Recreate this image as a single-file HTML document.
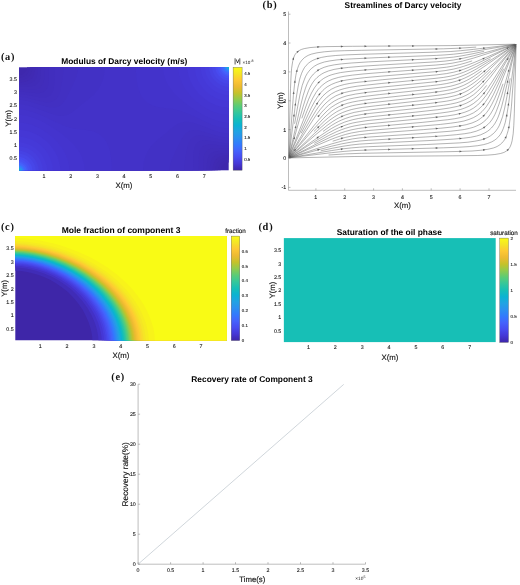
<!DOCTYPE html>
<html><head><meta charset="utf-8"><title>Figure</title>
<style>html,body{margin:0;padding:0;background:#fff}svg{display:block}text{white-space:pre}</style>
</head><body>
<svg width="520" height="585" viewBox="0 0 520 585" text-rendering="geometricPrecision">
<rect width="520" height="585" fill="#fff"/>
<g style="filter:blur(0.32px)">
<defs><linearGradient id="pg" x1="0" y1="1" x2="0" y2="0"><stop offset="0.0000" stop-color="#3e26a8"/><stop offset="0.0312" stop-color="#412ebf"/><stop offset="0.0625" stop-color="#4537d5"/><stop offset="0.0938" stop-color="#4641e2"/><stop offset="0.1250" stop-color="#484cf0"/><stop offset="0.1562" stop-color="#4657f6"/><stop offset="0.1875" stop-color="#4562fc"/><stop offset="0.2188" stop-color="#3c6efd"/><stop offset="0.2500" stop-color="#337afd"/><stop offset="0.2812" stop-color="#2f85f6"/><stop offset="0.3125" stop-color="#2c90f0"/><stop offset="0.3438" stop-color="#269ae9"/><stop offset="0.3750" stop-color="#21a3e3"/><stop offset="0.4062" stop-color="#16abdb"/><stop offset="0.4375" stop-color="#0bb3d2"/><stop offset="0.4688" stop-color="#11b9c4"/><stop offset="0.5000" stop-color="#17bfb6"/><stop offset="0.5312" stop-color="#26c3a9"/><stop offset="0.5625" stop-color="#35c79b"/><stop offset="0.5938" stop-color="#48ca89"/><stop offset="0.6250" stop-color="#5acc77"/><stop offset="0.6562" stop-color="#75cb62"/><stop offset="0.6875" stop-color="#8fcb4e"/><stop offset="0.7188" stop-color="#aac63c"/><stop offset="0.7500" stop-color="#c5c22a"/><stop offset="0.7812" stop-color="#d9be2e"/><stop offset="0.8125" stop-color="#ecba32"/><stop offset="0.8438" stop-color="#f5c133"/><stop offset="0.8750" stop-color="#fec834"/><stop offset="0.9062" stop-color="#f9d62d"/><stop offset="0.9375" stop-color="#f5e526"/><stop offset="0.9688" stop-color="#f7f01d"/><stop offset="1.0000" stop-color="#f9fb15"/></linearGradient></defs>
<text x="0.90" y="60.40" font-family="Liberation Serif, Times New Roman, serif" font-size="10.4" text-anchor="start" fill="#111" letter-spacing="0.75" font-weight="bold">(a)</text>
<text x="124.30" y="63.60" font-family="Liberation Sans, Arial, Helvetica, sans-serif" font-size="8.4" font-weight="bold" text-anchor="middle" fill="#000">Modulus of Darcy velocity (m/s)</text>
<rect x="19.0" y="67.3" width="209.70" height="103.00" fill="#3e28ad"/>
<path d="M19.0,167.7L19.0,75.2L21.7,74.6L24.7,72.6L26.4,69.9L27.1,67.3L228.7,67.3L228.7,162.4L226.0,163.0L223.0,165.0L221.3,167.7L220.6,170.3L19.0,170.3Z" fill="#3f29af" fill-rule="evenodd"/>
<path d="M19.0,167.7L19.0,77.8L21.7,77.4L24.3,76.4L26.2,75.2L27.0,74.5L28.3,72.6L29.4,69.9L29.9,67.3L228.7,67.3L228.7,159.8L226.0,160.2L223.4,161.2L221.5,162.4L220.7,163.1L219.4,165.0L218.3,167.7L217.8,170.3L19.0,170.3Z" fill="#3f2ab1" fill-rule="evenodd"/>
<path d="M19.0,167.7L19.0,80.2L21.7,79.9L24.3,79.3L27.5,77.9L29.6,76.0L30.2,75.2L31.5,72.6L32.2,69.9L32.5,67.3L228.7,67.3L228.7,157.4L226.0,157.7L223.4,158.3L220.2,159.7L218.1,161.6L217.5,162.4L216.2,165.0L215.5,167.7L215.2,170.3L19.0,170.3Z" fill="#402ab3" fill-rule="evenodd"/>
<path d="M19.0,167.7L19.0,82.5L24.3,82.0L27.0,81.3L29.6,80.1L32.2,77.9L33.7,75.2L34.6,72.6L35.0,69.9L35.2,67.3L228.7,67.3L228.7,155.1L223.4,155.6L220.7,156.3L218.1,157.5L215.5,159.7L214.0,162.4L213.1,165.0L212.7,167.7L212.5,170.3L19.0,170.3Z" fill="#402bb6" fill-rule="evenodd"/>
<path d="M19.0,167.7L19.0,84.7L24.3,84.5L27.0,84.2L29.6,83.6L32.3,82.5L34.7,80.5L36.3,77.9L37.1,75.2L37.6,72.6L38.0,67.3L228.7,67.3L228.7,152.9L223.4,153.1L220.7,153.4L218.1,154.0L215.4,155.1L213.0,157.1L211.4,159.7L210.6,162.4L210.1,165.0L209.7,170.3L19.0,170.3Z" fill="#402cb8" fill-rule="evenodd"/>
<path d="M19.0,167.7L19.0,87.0L27.0,86.9L32.3,86.3L34.9,85.4L37.6,83.5L39.4,80.5L40.2,77.9L40.9,72.6L41.1,67.3L228.7,67.3L228.7,150.6L220.7,150.7L215.4,151.3L212.8,152.2L210.1,154.1L208.3,157.1L207.5,159.7L206.8,165.0L206.6,170.3L19.0,170.3Z" fill="#412dba" fill-rule="evenodd"/>
<path d="M19.0,167.7L19.0,89.3L29.6,89.6L34.9,89.5L37.6,89.0L40.2,87.6L42.0,85.8L42.9,84.2L43.3,83.1L44.0,80.5L44.5,75.2L44.6,67.3L228.7,67.3L228.7,148.3L218.1,148.0L212.8,148.1L210.1,148.6L207.5,150.0L205.7,151.8L204.8,153.4L204.4,154.5L203.7,157.1L203.2,162.4L203.1,170.3L19.0,170.3Z" fill="#412dbc" fill-rule="evenodd"/>
<path d="M19.0,167.7L19.0,91.6L24.3,91.9L34.9,93.1L37.6,93.3L40.2,93.1L42.9,92.4L45.1,91.1L47.1,88.4L48.1,85.8L48.6,83.1L49.0,77.9L48.9,67.3L228.7,67.3L228.7,146.0L223.4,145.7L212.8,144.5L210.1,144.3L207.5,144.5L204.8,145.2L202.6,146.5L200.6,149.2L199.6,151.8L199.1,154.5L198.7,159.7L198.8,170.3L19.0,170.3Z" fill="#412ebe" fill-rule="evenodd"/>
<path d="M19.0,167.7L19.0,94.2L21.7,94.3L27.0,95.0L40.2,97.4L42.9,97.6L45.5,97.4L48.6,96.4L50.9,94.4L51.4,93.7L52.8,91.1L53.6,88.4L54.1,85.8L54.6,80.5L54.7,67.3L228.7,67.3L228.7,143.4L226.0,143.3L220.7,142.6L207.5,140.2L204.8,140.0L202.2,140.2L199.1,141.2L196.8,143.2L196.3,143.9L194.9,146.5L194.1,149.2L193.6,151.8L193.1,157.1L193.0,170.3L19.0,170.3Z" fill="#422fc0" fill-rule="evenodd"/>
<path d="M19.0,167.7L19.0,96.8L21.7,97.0L27.0,97.8L40.2,101.2L45.5,102.2L48.2,102.4L50.9,102.1L53.5,101.1L56.2,99.0L58.0,96.4L59.2,93.7L60.1,91.1L61.3,85.8L62.7,77.9L63.3,72.6L63.6,67.3L228.7,67.3L228.7,140.8L226.0,140.6L220.7,139.8L207.5,136.4L202.2,135.4L199.5,135.2L196.8,135.5L194.2,136.5L191.5,138.6L189.7,141.2L188.5,143.9L187.6,146.5L186.4,151.8L185.0,159.7L184.4,165.0L184.1,170.3L19.0,170.3Z" fill="#4230c2" fill-rule="evenodd"/>
<path d="M19.0,167.7L19.0,99.8L24.3,100.3L29.6,101.5L42.9,105.7L48.2,107.1L50.9,107.5L53.5,107.6L56.2,107.3L58.8,106.4L61.9,104.3L64.1,101.6L65.8,99.0L67.2,96.4L73.6,83.1L75.9,77.9L77.5,72.6L78.0,69.9L78.3,67.3L228.7,67.3L228.7,137.8L223.4,137.3L218.1,136.1L204.8,131.9L199.5,130.5L196.8,130.1L194.2,130.0L191.5,130.3L188.9,131.2L185.8,133.3L183.6,136.0L181.9,138.6L180.5,141.2L174.1,154.5L171.8,159.7L170.2,165.0L169.7,167.7L169.4,170.3L19.0,170.3Z" fill="#4231c5" fill-rule="evenodd"/>
<path d="M19.0,167.7L19.0,104.1L24.3,104.7L29.6,105.9L34.9,107.7L48.2,112.8L53.5,114.6L56.2,115.2L58.8,115.7L61.5,115.9L64.1,115.7L67.5,114.8L69.4,114.0L72.1,112.3L75.7,109.6L80.1,105.8L91.7,96.4L94.4,93.7L96.7,91.1L98.6,88.4L100.2,85.8L102.4,80.5L103.9,75.2L104.3,72.6L104.7,67.3L228.7,67.3L228.7,133.5L223.4,132.9L218.1,131.7L212.8,129.9L199.5,124.8L194.2,123.0L191.5,122.4L188.9,121.9L186.2,121.7L183.6,121.9L180.2,122.8L178.3,123.6L175.6,125.3L172.0,128.0L167.6,131.8L156.0,141.2L153.3,143.9L151.0,146.5L149.1,149.2L147.5,151.8L145.3,157.1L143.8,162.4L143.4,165.0L143.0,170.3L19.0,170.3Z" fill="#4332c8" fill-rule="evenodd"/>
<path d="M19.0,167.7L19.0,109.1L23.8,109.6L27.0,110.2L34.9,112.7L42.9,116.1L58.8,123.6L66.8,126.7L72.1,128.2L74.7,128.7L85.4,129.9L90.7,130.8L93.3,131.5L96.0,132.5L98.6,133.8L101.6,136.0L104.2,138.6L106.6,142.1L108.6,146.5L110.1,151.8L111.0,157.1L111.5,162.4L111.9,170.3L19.0,170.3ZM138.3,88.4L137.1,83.1L136.4,77.9L136.0,72.6L135.8,67.3L228.7,67.3L228.7,128.5L223.9,128.0L220.7,127.4L212.8,124.9L204.8,121.5L188.9,114.0L180.9,110.9L175.6,109.4L173.0,108.9L162.3,107.7L157.4,106.9L154.4,106.1L151.7,105.1L149.1,103.8L146.4,101.9L143.5,99.0L141.6,96.4L140.2,93.7Z" fill="#4333cb" fill-rule="evenodd"/>
<path d="M19.0,167.7L19.0,114.7L24.3,115.3L29.6,116.5L34.9,118.3L40.2,120.6L45.5,123.3L53.4,128.0L61.0,133.3L67.6,138.6L73.2,143.9L75.5,146.5L79.3,151.8L80.7,154.5L82.0,157.1L83.7,162.4L84.3,165.0L84.8,170.3L19.0,170.3ZM164.8,77.9L163.4,72.6L162.9,67.3L228.7,67.3L228.7,122.9L226.0,122.7L220.7,121.8L215.4,120.3L210.1,118.2L204.8,115.7L199.5,112.8L190.3,106.9L186.7,104.3L180.1,99.0L174.5,93.7L172.2,91.1L168.4,85.8L165.7,80.5Z" fill="#4434ce" fill-rule="evenodd"/>
<path d="M19.0,167.7L19.0,122.5L24.3,123.0L27.0,123.5L32.3,125.0L37.6,127.2L42.9,130.0L45.5,131.7L50.9,135.7L54.1,138.6L56.7,141.2L61.1,146.5L62.9,149.2L65.8,154.5L67.8,159.7L68.6,162.4L69.1,165.0L69.6,170.3L19.0,170.3ZM178.1,67.3L228.7,67.3L228.7,115.1L223.4,114.6L220.7,114.1L215.4,112.6L210.1,110.4L204.8,107.6L202.2,105.9L196.8,101.9L193.6,99.0L191.0,96.4L186.6,91.1L184.8,88.4L181.9,83.1L179.9,77.9L179.1,75.2L178.6,72.6Z" fill="#4435d1" fill-rule="evenodd"/>
<path d="M19.0,167.7L19.0,129.8L21.7,130.0L27.0,130.9L29.6,131.6L34.9,133.7L39.2,136.0L42.9,138.4L45.5,140.5L48.2,143.0L51.3,146.5L53.3,149.2L55.0,151.8L57.6,157.1L59.3,162.4L59.9,165.0L60.5,170.3L19.0,170.3ZM188.4,75.2L187.8,72.6L187.2,67.3L228.7,67.3L228.7,107.8L226.0,107.6L220.7,106.7L215.4,105.1L210.1,102.6L207.5,101.0L202.2,97.1L198.7,93.7L196.4,91.1L192.7,85.8L190.1,80.5Z" fill="#4537d5" fill-rule="evenodd"/>
<path d="M19.0,167.7L19.0,136.6L24.3,137.2L27.0,137.9L32.3,139.8L37.6,142.8L40.2,144.8L42.9,147.3L44.7,149.2L46.7,151.8L49.8,157.1L51.8,162.4L52.4,165.0L53.1,170.3L19.0,170.3ZM196.8,77.9L195.9,75.2L195.3,72.6L194.6,67.3L228.7,67.3L228.7,101.0L223.4,100.4L218.1,98.9L215.4,97.8L210.1,94.8L205.6,91.1L202.2,87.3L199.3,83.1L197.9,80.5Z" fill="#4539d8" fill-rule="evenodd"/>
<path d="M19.0,167.7L19.0,142.3L21.7,142.5L24.3,143.0L29.6,144.8L32.3,146.2L34.9,147.8L37.6,150.0L39.4,151.8L41.6,154.5L43.3,157.1L44.7,159.7L46.5,165.0L47.0,167.7L47.2,170.3L19.0,170.3ZM202.0,75.2L201.2,72.6L200.7,69.9L200.5,67.3L228.7,67.3L228.7,95.3L226.0,95.1L223.4,94.6L220.7,93.8L218.1,92.8L215.4,91.4L212.8,89.8L210.1,87.6L208.3,85.8L206.1,83.1L204.4,80.5L203.0,77.9Z" fill="#463bdb" fill-rule="evenodd"/>
<path d="M19.0,167.7L19.0,146.4L21.7,146.7L24.3,147.2L27.0,148.1L29.6,149.4L32.3,151.0L34.9,153.1L36.3,154.5L38.4,157.1L40.0,159.7L41.3,162.4L42.2,165.0L42.7,167.7L43.0,170.3L19.0,170.3ZM204.7,67.3L228.7,67.3L228.7,91.2L226.0,90.9L223.4,90.4L220.7,89.5L218.1,88.2L215.4,86.6L212.8,84.5L211.4,83.1L209.3,80.5L207.7,77.9L206.4,75.2L205.5,72.6L205.0,69.9Z" fill="#463ede" fill-rule="evenodd"/>
<path d="M19.0,167.7L19.0,150.6L21.7,150.9L24.3,151.7L27.0,152.7L29.6,154.3L33.0,157.1L35.1,159.7L36.7,162.4L37.7,165.0L38.5,167.7L38.8,170.3L19.0,170.3ZM210.0,72.6L209.2,69.9L208.9,67.3L228.7,67.3L228.7,87.0L226.0,86.7L223.4,85.9L220.7,84.9L217.8,83.1L214.7,80.5L212.6,77.9L211.0,75.2Z" fill="#4642e3" fill-rule="evenodd"/>
<path d="M19.0,167.7L19.0,153.6L21.7,154.0L24.3,154.8L27.0,156.1L29.6,158.0L31.3,159.7L33.3,162.4L34.6,165.0L35.4,167.7L35.8,170.3L19.0,170.3ZM212.3,69.9L211.9,67.3L228.7,67.3L228.7,84.0L226.0,83.6L223.4,82.8L220.7,81.5L218.1,79.6L216.4,77.9L214.4,75.2L213.1,72.6Z" fill="#4746e8" fill-rule="evenodd"/>
<path d="M19.0,167.7L19.0,156.8L21.7,157.3L24.3,158.2L27.0,160.0L29.4,162.4L31.1,165.0L32.1,167.7L32.6,170.3L19.0,170.3ZM215.1,67.3L228.7,67.3L228.7,80.8L226.0,80.3L223.4,79.4L220.7,77.6L218.3,75.2L216.6,72.6L215.6,69.9Z" fill="#484bef" fill-rule="evenodd"/>
<path d="M19.0,167.7L19.0,159.0L21.7,159.6L24.3,160.8L27.0,163.0L28.6,165.0L29.7,167.7L30.4,170.3L19.0,170.3ZM218.0,69.9L217.3,67.3L228.7,67.3L228.7,78.6L226.0,78.0L223.4,76.8L221.4,75.2L219.1,72.6Z" fill="#4751f3" fill-rule="evenodd"/>
<path d="M19.0,167.7L19.0,161.0L21.7,161.8L24.3,163.4L26.0,165.0L27.5,167.7L28.3,170.3L19.0,170.3ZM220.2,69.9L219.4,67.3L228.7,67.3L228.7,76.6L226.0,75.8L223.4,74.2L221.7,72.6Z" fill="#4659f7" fill-rule="evenodd"/>
<path d="M19.0,167.7L19.0,162.6L21.7,163.4L24.3,165.5L26.0,167.7L26.7,170.3L19.0,170.3ZM221.7,69.9L221.0,67.3L228.7,67.3L228.7,75.0L226.0,74.2L223.4,72.1Z" fill="#4562fc" fill-rule="evenodd"/>
<path d="M19.0,167.7L19.0,164.2L21.7,165.3L24.1,167.7L25.2,170.3L19.0,170.3ZM222.5,67.3L228.7,67.3L228.7,73.4L226.0,72.3L223.6,69.9Z" fill="#3d6dfc" fill-rule="evenodd"/>
<path d="M19.0,167.7L19.0,165.3L21.7,166.5L22.8,167.7L24.0,170.3L19.0,170.3ZM224.9,69.9L223.7,67.3L228.7,67.3L228.7,72.3L226.0,71.1Z" fill="#337afd" fill-rule="evenodd"/>
<path d="M19.0,167.7L19.0,166.3L21.7,168.1L23.1,170.3L19.0,170.3ZM224.6,67.3L228.7,67.3L228.7,71.3L226.0,69.5Z" fill="#2e8af3" fill-rule="evenodd"/>
<path d="M19.0,167.7L19.0,167.4L19.4,167.7L21.9,170.3L19.0,170.3ZM225.8,67.3L228.7,67.3L228.7,70.2Z" fill="#269ae9" fill-rule="evenodd"/>
<path d="M21.3,170.3L19.0,170.3L19.0,168.0ZM226.4,67.3L228.7,67.3L228.7,69.6Z" fill="#1aa9de" fill-rule="evenodd"/>
<path d="M20.9,170.3L19.0,170.3L19.0,168.4ZM226.8,67.3L228.7,67.3L228.7,69.2Z" fill="#0eb6cc" fill-rule="evenodd"/>
<text x="44.00" y="178.16" font-family="Liberation Sans, Arial, Helvetica, sans-serif" font-size="5.3" font-weight="normal" text-anchor="middle" fill="#151515" stroke="#151515" stroke-width="0.1">1</text>
<text x="70.70" y="178.16" font-family="Liberation Sans, Arial, Helvetica, sans-serif" font-size="5.3" font-weight="normal" text-anchor="middle" fill="#151515" stroke="#151515" stroke-width="0.1">2</text>
<text x="97.40" y="178.16" font-family="Liberation Sans, Arial, Helvetica, sans-serif" font-size="5.3" font-weight="normal" text-anchor="middle" fill="#151515" stroke="#151515" stroke-width="0.1">3</text>
<text x="124.10" y="178.16" font-family="Liberation Sans, Arial, Helvetica, sans-serif" font-size="5.3" font-weight="normal" text-anchor="middle" fill="#151515" stroke="#151515" stroke-width="0.1">4</text>
<text x="150.80" y="178.16" font-family="Liberation Sans, Arial, Helvetica, sans-serif" font-size="5.3" font-weight="normal" text-anchor="middle" fill="#151515" stroke="#151515" stroke-width="0.1">5</text>
<text x="177.50" y="178.16" font-family="Liberation Sans, Arial, Helvetica, sans-serif" font-size="5.3" font-weight="normal" text-anchor="middle" fill="#151515" stroke="#151515" stroke-width="0.1">6</text>
<text x="204.20" y="178.16" font-family="Liberation Sans, Arial, Helvetica, sans-serif" font-size="5.3" font-weight="normal" text-anchor="middle" fill="#151515" stroke="#151515" stroke-width="0.1">7</text>
<text x="16.90" y="159.96" font-family="Liberation Sans, Arial, Helvetica, sans-serif" font-size="5.3" font-weight="normal" text-anchor="end" fill="#151515" stroke="#151515" stroke-width="0.1">0.5</text>
<text x="16.90" y="146.81" font-family="Liberation Sans, Arial, Helvetica, sans-serif" font-size="5.3" font-weight="normal" text-anchor="end" fill="#151515" stroke="#151515" stroke-width="0.1">1</text>
<text x="16.90" y="133.66" font-family="Liberation Sans, Arial, Helvetica, sans-serif" font-size="5.3" font-weight="normal" text-anchor="end" fill="#151515" stroke="#151515" stroke-width="0.1">1.5</text>
<text x="16.90" y="120.51" font-family="Liberation Sans, Arial, Helvetica, sans-serif" font-size="5.3" font-weight="normal" text-anchor="end" fill="#151515" stroke="#151515" stroke-width="0.1">2</text>
<text x="16.90" y="107.36" font-family="Liberation Sans, Arial, Helvetica, sans-serif" font-size="5.3" font-weight="normal" text-anchor="end" fill="#151515" stroke="#151515" stroke-width="0.1">2.5</text>
<text x="16.90" y="94.21" font-family="Liberation Sans, Arial, Helvetica, sans-serif" font-size="5.3" font-weight="normal" text-anchor="end" fill="#151515" stroke="#151515" stroke-width="0.1">3</text>
<text x="16.90" y="81.06" font-family="Liberation Sans, Arial, Helvetica, sans-serif" font-size="5.3" font-weight="normal" text-anchor="end" fill="#151515" stroke="#151515" stroke-width="0.1">3.5</text>
<text x="124.00" y="188.00" font-family="Liberation Sans, Arial, Helvetica, sans-serif" font-size="7.8" font-weight="normal" text-anchor="middle" fill="#141414" stroke="#141414" stroke-width="0.14">X(m)</text>
<text transform="translate(11.40,118.30) rotate(-90)" font-family="Liberation Sans, Arial, Helvetica, sans-serif" font-size="7.8" text-anchor="middle" fill="#141414" stroke="#141414" stroke-width="0.14">Y(m)</text>
<rect x="233.10" y="67.30" width="9.00" height="102.90" fill="url(#pg)" stroke="#555" stroke-width="0.35"/>
<text x="244.20" y="160.83" font-family="Liberation Sans, Arial, Helvetica, sans-serif" font-size="4.4" font-weight="normal" text-anchor="start" fill="#151515" stroke="#151515" stroke-width="0.1">0.5</text>
<text x="244.20" y="150.13" font-family="Liberation Sans, Arial, Helvetica, sans-serif" font-size="4.4" font-weight="normal" text-anchor="start" fill="#151515" stroke="#151515" stroke-width="0.1">1</text>
<text x="244.20" y="139.43" font-family="Liberation Sans, Arial, Helvetica, sans-serif" font-size="4.4" font-weight="normal" text-anchor="start" fill="#151515" stroke="#151515" stroke-width="0.1">1.5</text>
<text x="244.20" y="128.73" font-family="Liberation Sans, Arial, Helvetica, sans-serif" font-size="4.4" font-weight="normal" text-anchor="start" fill="#151515" stroke="#151515" stroke-width="0.1">2</text>
<text x="244.20" y="118.03" font-family="Liberation Sans, Arial, Helvetica, sans-serif" font-size="4.4" font-weight="normal" text-anchor="start" fill="#151515" stroke="#151515" stroke-width="0.1">2.5</text>
<text x="244.20" y="107.33" font-family="Liberation Sans, Arial, Helvetica, sans-serif" font-size="4.4" font-weight="normal" text-anchor="start" fill="#151515" stroke="#151515" stroke-width="0.1">3</text>
<text x="244.20" y="96.63" font-family="Liberation Sans, Arial, Helvetica, sans-serif" font-size="4.4" font-weight="normal" text-anchor="start" fill="#151515" stroke="#151515" stroke-width="0.1">3.5</text>
<text x="244.20" y="85.93" font-family="Liberation Sans, Arial, Helvetica, sans-serif" font-size="4.4" font-weight="normal" text-anchor="start" fill="#151515" stroke="#151515" stroke-width="0.1">4</text>
<text x="244.20" y="75.23" font-family="Liberation Sans, Arial, Helvetica, sans-serif" font-size="4.4" font-weight="normal" text-anchor="start" fill="#151515" stroke="#151515" stroke-width="0.1">4.5</text>
<text x="234.30" y="63.00" font-family="Liberation Sans, Arial, Helvetica, sans-serif" font-size="6.3" font-weight="normal" text-anchor="start" fill="#111" stroke="#141414" stroke-width="0.14">|v|</text>
<text x="242.6" y="64.4" font-family="Liberation Sans, Arial, sans-serif" font-size="4.6" fill="#151515">×10<tspan dy="-2.1" font-size="3.6">-8</tspan></text>
<text x="0.90" y="229.90" font-family="Liberation Serif, Times New Roman, serif" font-size="10.4" text-anchor="start" fill="#111" letter-spacing="0.75" font-weight="bold">(c)</text>
<text x="121.00" y="233.00" font-family="Liberation Sans, Arial, Helvetica, sans-serif" font-size="8.53" font-weight="bold" text-anchor="middle" fill="#000">Mole fraction of component 3</text>
<clipPath id="cc"><rect x="15.3" y="236.1" width="211.20" height="104.05"/></clipPath><g clip-path="url(#cc)">
<rect x="13.3" y="234.1" width="215.20" height="108.05" fill="#3e26a8"/>
<path d="M12.6,270.1L12.6,233.4L229.2,233.4L229.2,342.8L92.5,342.8L92.2,336.4L90.9,329.5L88.8,322.8L86.1,316.4L82.8,310.1L78.1,303.3L73.3,297.5L67.9,292.1L62.2,287.5L56.4,283.5L50.6,280.1L43.4,276.8L37.9,274.8L30.7,272.7L26.0,271.8L21.3,271.1L17.3,270.8L12.6,270.7Z" fill="#402cb7" fill-rule="evenodd"/>
<path d="M12.6,267.4L12.6,233.4L229.2,233.4L229.2,342.8L98.5,342.8L98.2,336.1L96.8,329.1L94.8,322.7L91.5,315.0L87.5,308.0L82.8,301.5L77.6,295.5L72.0,290.1L66.2,285.5L59.2,280.8L51.9,276.8L44.2,273.5L36.2,270.8L27.5,268.8L20.0,267.8Z" fill="#4331c6" fill-rule="evenodd"/>
<path d="M12.6,265.4L12.6,233.4L229.2,233.4L229.2,342.8L101.8,342.8L101.5,336.8L100.9,332.8L100.1,329.5L98.1,322.8L94.8,315.3L90.8,308.2L86.1,301.6L80.9,295.5L74.6,289.5L67.9,284.1L60.9,279.5L53.5,275.5L45.8,272.1L37.9,269.4L29.6,267.4L20.6,266.1L12.6,265.8Z" fill="#4537d5" fill-rule="evenodd"/>
<path d="M12.6,264.1L12.6,233.4L229.2,233.4L229.2,342.8L104.1,342.8L104.0,339.5L103.7,336.1L102.3,328.8L100.2,322.1L96.8,314.6L92.7,307.5L87.5,300.3L82.0,294.1L75.6,288.1L68.7,282.8L61.4,278.1L53.8,274.1L45.9,270.8L37.8,268.1L29.3,266.1L20.6,264.9L12.6,264.6Z" fill="#463ede" fill-rule="evenodd"/>
<path d="M12.6,263.4L12.6,233.4L229.2,233.4L229.2,342.8L105.9,342.8L105.5,336.1L104.1,328.8L102.9,324.5L101.5,320.9L98.2,313.6L94.1,306.8L88.8,299.6L83.3,293.5L76.8,287.5L69.8,282.1L62.5,277.5L55.0,273.5L47.1,270.1L39.1,267.4L30.9,265.4L22.3,264.1L17.3,263.7L12.6,263.6Z" fill="#4745e7" fill-rule="evenodd"/>
<path d="M12.6,262.8L12.6,233.4L229.2,233.4L229.2,342.8L107.5,342.8L107.4,339.5L107.0,335.5L105.5,328.2L104.3,324.1L102.9,320.3L99.7,313.5L95.5,306.5L90.8,300.1L84.9,293.5L78.5,287.5L71.6,282.1L64.5,277.5L55.7,272.8L47.9,269.4L39.9,266.8L30.7,264.6L22.0,263.3Z" fill="#484cf0" fill-rule="evenodd"/>
<path d="M12.6,261.4L12.6,233.4L229.2,233.4L229.2,342.8L108.8,342.8L108.8,339.5L108.4,335.5L106.9,328.1L105.5,323.7L104.2,320.2L100.8,313.1L96.7,306.1L91.5,299.2L85.7,292.8L79.2,286.8L72.3,281.5L65.0,276.8L56.2,272.1L48.3,268.8L40.3,266.1L32.2,264.1L22.7,262.6L17.3,262.2L12.6,262.1Z" fill="#4754f4" fill-rule="evenodd"/>
<path d="M12.6,261.4L12.6,233.4L229.2,233.4L229.2,342.8L110.1,342.8L110.0,339.5L109.6,335.5L108.2,328.4L106.9,324.1L105.5,320.4L102.2,313.2L100.0,309.5L97.5,305.5L92.4,298.8L86.3,292.1L79.7,286.1L72.7,280.8L65.4,276.1L56.5,271.5L48.5,268.1L40.4,265.4L35.3,264.1L30.7,263.1L21.3,261.8Z" fill="#465bf8" fill-rule="evenodd"/>
<path d="M12.6,260.8L12.6,233.4L229.2,233.4L229.2,342.8L111.2,342.8L110.8,336.1L110.2,332.2L109.4,328.8L108.3,324.8L106.9,320.9L103.5,313.5L99.5,306.8L94.2,299.5L88.2,292.7L81.0,286.1L74.0,280.8L65.7,275.5L56.6,270.8L48.5,267.4L40.3,264.8L30.7,262.5L22.0,261.3Z" fill="#4562fc" fill-rule="evenodd"/>
<path d="M12.6,260.1L12.6,233.4L229.2,233.4L229.2,342.8L112.2,342.8L112.2,339.5L111.8,335.5L110.3,328.1L109.1,324.1L107.6,320.1L104.2,312.8L99.5,305.2L94.2,298.1L88.0,291.5L81.3,285.5L74.3,280.1L65.8,274.8L56.6,270.1L48.4,266.8L40.1,264.1L31.3,262.1L22.7,260.8L17.3,260.4L12.6,260.3Z" fill="#3f6afc" fill-rule="evenodd"/>
<path d="M12.6,259.4L12.6,233.4L229.2,233.4L229.2,342.8L113.2,342.8L113.2,339.5L112.8,335.5L111.3,328.1L108.9,320.8L107.2,316.8L105.2,312.8L100.7,305.5L95.5,298.5L89.0,291.5L82.4,285.5L75.4,280.1L67.1,274.8L58.1,270.1L50.1,266.8L42.0,264.1L37.1,262.8L32.0,261.7L26.7,260.8L22.0,260.2L17.3,259.9L12.6,259.8Z" fill="#3972fd" fill-rule="evenodd"/>
<path d="M12.6,258.8L12.6,233.4L229.2,233.4L229.2,342.8L114.2,342.8L114.1,339.5L113.7,335.5L112.2,328.1L111.0,324.1L109.6,320.1L106.1,312.8L101.5,305.2L96.2,298.1L90.0,291.5L83.5,285.5L76.5,280.1L68.2,274.8L59.4,270.2L51.4,266.7L42.0,263.6L33.4,261.4L28.0,260.5L22.7,259.8L18.0,259.4L12.6,259.3Z" fill="#337afd" fill-rule="evenodd"/>
<path d="M12.6,258.8L12.6,233.4L229.2,233.4L229.2,342.8L115.0,342.8L114.9,338.8L114.6,335.5L113.9,331.5L112.9,327.5L111.7,323.5L110.2,319.5L106.9,312.5L102.2,304.9L96.8,297.8L90.3,290.8L83.6,284.8L75.6,278.8L67.0,273.5L57.7,268.8L49.4,265.4L41.0,262.8L31.3,260.6L22.0,259.3Z" fill="#3182f8" fill-rule="evenodd"/>
<path d="M12.6,258.1L12.6,233.4L229.2,233.4L229.2,342.8L115.9,342.8L115.8,339.5L115.5,335.5L114.8,331.5L113.8,327.5L112.6,323.5L111.0,319.5L107.5,312.1L103.0,304.8L97.4,297.5L91.2,290.8L83.8,284.1L76.6,278.8L68.1,273.5L58.9,268.8L50.8,265.4L41.4,262.4L32.0,260.2L23.3,258.9L18.0,258.5L12.6,258.4Z" fill="#2e89f4" fill-rule="evenodd"/>
<path d="M12.6,257.4L12.6,233.4L229.2,233.4L229.2,342.8L116.7,342.8L116.6,339.5L116.3,335.5L115.6,331.5L114.6,327.5L112.1,320.1L110.4,316.1L108.4,312.1L103.9,304.8L98.3,297.5L92.1,290.8L84.7,284.1L77.5,278.7L69.1,273.5L60.1,268.8L52.1,265.4L42.7,262.3L33.7,260.1L28.0,259.1L22.7,258.4L17.3,258.1L12.6,258.0Z" fill="#2c90f0" fill-rule="evenodd"/>
<path d="M12.6,257.4L12.6,233.4L229.2,233.4L229.2,342.8L117.5,342.8L117.4,339.5L117.1,335.5L116.4,331.5L115.6,327.9L114.4,324.1L112.9,320.1L111.2,316.1L109.2,312.1L104.7,304.8L99.1,297.5L92.8,290.6L85.5,284.0L77.6,278.1L69.0,272.8L60.1,268.3L51.4,264.7L41.4,261.5L32.5,259.4L23.3,258.1Z" fill="#2897eb" fill-rule="evenodd"/>
<path d="M12.6,256.8L12.6,233.4L229.2,233.4L229.2,342.8L118.3,342.8L118.2,339.5L117.8,335.5L117.2,331.5L116.2,327.5L115.0,323.5L113.5,319.5L111.7,315.5L109.6,311.5L105.0,304.1L99.4,296.8L93.1,290.1L85.6,283.5L77.5,277.5L68.8,272.1L59.4,267.5L51.1,264.1L42.0,261.2L32.7,259.1L27.3,258.2L22.0,257.5L12.6,257.2Z" fill="#249de7" fill-rule="evenodd"/>
<path d="M12.6,256.1L12.6,233.4L229.2,233.4L229.2,342.8L119.0,342.8L119.0,339.5L118.6,335.5L117.9,331.5L117.0,327.5L115.7,323.5L114.2,319.5L112.4,315.5L110.4,311.5L105.8,304.1L100.2,296.8L94.0,290.1L86.5,283.5L79.4,278.1L70.8,272.7L61.9,268.1L52.4,264.1L43.4,261.2L34.0,258.9L28.7,258.0L23.3,257.3L18.0,256.9L12.6,256.8Z" fill="#21a3e3" fill-rule="evenodd"/>
<path d="M12.6,256.1L12.6,233.4L229.2,233.4L229.2,342.8L119.8,342.8L119.7,339.5L119.3,335.5L118.7,331.5L117.7,327.5L116.5,323.5L115.0,319.5L113.2,315.5L111.1,311.5L106.6,304.1L100.8,296.7L94.1,289.5L86.8,283.0L79.3,277.5L70.7,272.1L61.5,267.4L51.8,263.4L42.0,260.4L32.7,258.2L23.3,256.9L18.0,256.5L12.6,256.4Z" fill="#1aa9de" fill-rule="evenodd"/>
<path d="M12.6,255.4L12.6,233.4L229.2,233.4L229.2,342.8L120.5,342.8L120.4,339.5L120.1,335.5L119.4,331.5L118.5,327.5L117.2,323.5L115.7,319.5L113.9,315.5L111.9,311.5L109.5,307.5L106.9,303.5L101.2,296.1L94.8,289.4L87.3,282.8L79.2,276.8L70.8,271.6L62.1,267.2L52.7,263.4L43.4,260.3L34.0,258.1L28.7,257.2L23.3,256.5L18.0,256.1L12.6,256.0Z" fill="#12aed8" fill-rule="evenodd"/>
<path d="M12.6,255.4L12.6,233.4L229.2,233.4L229.2,342.8L121.2,342.8L121.2,339.5L120.8,335.5L120.1,331.5L119.2,327.5L118.0,323.5L116.5,319.5L114.7,315.5L112.6,311.5L110.3,307.5L107.6,303.5L101.9,296.1L95.7,289.5L88.1,282.8L80.0,276.8L71.4,271.5L62.2,266.8L52.3,262.8L42.7,259.7L32.7,257.4L23.3,256.1L18.0,255.7L12.6,255.6Z" fill="#0bb3d2" fill-rule="evenodd"/>
<path d="M12.6,254.8L12.6,233.4L229.2,233.4L229.2,342.8L121.9,342.8L121.8,338.8L121.4,334.8L120.7,330.8L119.7,326.8L118.4,322.8L116.9,318.8L115.1,314.8L113.0,310.8L110.6,306.8L107.9,302.8L102.1,295.5L95.8,288.8L88.2,282.1L80.1,276.3L72.1,271.3L63.2,266.8L53.4,262.7L43.4,259.5L34.0,257.3L28.7,256.4L23.3,255.7L18.0,255.3L12.6,255.2Z" fill="#0fb7c9" fill-rule="evenodd"/>
<path d="M12.6,254.8L12.6,233.4L229.2,233.4L229.2,342.8L122.6,342.8L122.6,338.8L122.1,334.8L121.4,330.8L120.4,326.8L119.2,322.8L117.6,318.8L115.8,314.8L113.7,310.8L111.3,306.8L108.7,302.8L102.9,295.5L96.5,288.8L88.9,282.1L80.7,276.1L72.0,270.8L62.8,266.1L52.9,262.1L42.7,258.9L32.7,256.7L22.7,255.3Z" fill="#13bbc0" fill-rule="evenodd"/>
<path d="M12.6,254.1L12.6,233.4L229.2,233.4L229.2,342.8L123.4,342.8L123.3,338.8L122.8,334.8L122.1,330.8L121.1,326.8L119.9,322.8L118.3,318.8L116.5,314.8L114.4,310.8L112.1,306.8L109.4,302.8L103.6,295.5L97.3,288.8L89.7,282.1L81.6,276.1L72.9,270.8L63.8,266.1L54.1,262.1L44.0,258.9L34.0,256.5L28.7,255.6L23.3,255.0L18.0,254.6L12.6,254.5Z" fill="#17bfb6" fill-rule="evenodd"/>
<path d="M12.6,254.1L12.6,233.4L229.2,233.4L229.2,342.8L124.1,342.8L124.0,338.8L123.5,334.8L122.8,330.8L121.8,326.8L120.6,322.8L119.1,318.8L117.3,314.8L115.2,310.8L112.8,306.8L110.1,302.8L104.4,295.5L100.8,291.6L97.4,288.1L89.7,281.5L81.4,275.5L72.6,270.1L63.3,265.4L53.4,261.4L43.4,258.3L32.7,255.9L22.7,254.5L17.3,254.2Z" fill="#21c2ad" fill-rule="evenodd"/>
<path d="M12.6,253.4L12.6,233.4L229.2,233.4L229.2,342.8L124.8,342.8L124.7,338.8L124.3,334.8L123.5,330.8L122.6,326.8L121.3,322.8L119.8,318.8L118.0,314.8L115.9,310.8L113.5,306.8L110.9,302.8L105.1,295.5L101.5,291.5L98.2,288.1L90.5,281.5L82.3,275.5L73.4,270.1L64.1,265.3L54.1,261.3L44.0,258.1L34.0,255.8L24.7,254.4L18.6,253.9L12.6,253.7Z" fill="#2bc4a4" fill-rule="evenodd"/>
<path d="M12.6,252.8L12.6,233.4L229.2,233.4L229.2,342.8L125.5,342.8L125.4,338.8L125.0,334.8L124.3,330.8L123.3,326.8L122.0,322.8L120.5,318.8L118.7,314.8L116.6,310.8L114.3,306.8L111.6,302.8L105.9,295.5L102.3,291.5L98.9,288.1L91.3,281.5L83.2,275.5L74.1,269.9L64.8,265.2L54.7,261.1L44.7,257.9L35.4,255.6L29.3,254.6L24.0,253.9L18.0,253.5L12.6,253.4Z" fill="#35c79b" fill-rule="evenodd"/>
<path d="M12.6,252.8L12.6,233.4L229.2,233.4L229.2,342.8L126.2,342.8L126.1,338.8L125.7,334.8L125.0,330.8L124.0,326.8L122.7,322.8L121.2,318.8L119.1,314.1L117.0,310.1L114.6,306.1L111.9,302.1L106.1,294.8L102.4,290.8L99.0,287.5L91.3,280.8L82.8,274.6L73.4,269.0L64.1,264.4L54.1,260.4L44.0,257.3L34.0,255.0L24.0,253.5L18.0,253.1L12.6,253.0Z" fill="#41c98f" fill-rule="evenodd"/>
<path d="M12.6,252.1L12.6,233.4L229.2,233.4L229.2,342.8L126.9,342.8L126.8,338.8L126.4,334.8L125.7,330.8L124.7,326.8L123.2,322.1L121.7,318.1L119.8,314.1L117.7,310.1L115.3,306.1L112.6,302.1L106.8,294.8L103.2,290.8L99.8,287.5L92.1,280.8L83.9,274.8L74.8,269.2L65.4,264.5L55.4,260.4L45.4,257.2L35.4,254.9L29.3,253.8L24.0,253.2L18.0,252.7L12.6,252.6Z" fill="#4ecb83" fill-rule="evenodd"/>
<path d="M12.6,252.1L12.6,233.4L229.2,233.4L229.2,342.8L127.6,342.8L127.5,338.8L127.1,334.8L126.4,330.8L125.5,326.8L124.0,322.1L122.4,318.1L120.6,314.1L118.5,310.1L116.1,306.1L113.4,302.1L110.4,298.1L107.0,294.1L103.5,290.3L99.9,286.8L92.2,280.1L83.5,273.9L74.1,268.4L64.8,263.7L54.7,259.8L44.0,256.4L34.0,254.2L23.3,252.7L18.0,252.3L12.6,252.2Z" fill="#5acc77" fill-rule="evenodd"/>
<path d="M12.6,251.4L12.6,233.4L229.2,233.4L229.2,342.8L128.4,342.8L128.3,338.8L127.9,334.8L127.2,330.8L126.2,326.8L124.7,322.1L123.2,318.1L121.3,314.1L119.2,310.1L116.9,306.1L114.2,302.1L111.2,298.1L107.8,294.1L100.7,286.8L93.0,280.1L84.7,274.1L75.5,268.5L65.4,263.6L55.4,259.5L45.4,256.4L34.7,253.9L29.3,253.0L23.3,252.3L18.0,251.9L12.6,251.8Z" fill="#6ccc69" fill-rule="evenodd"/>
<path d="M12.6,251.4L12.6,233.4L229.2,233.4L229.2,342.8L129.1,342.8L129.0,338.8L128.6,334.8L127.9,330.8L126.8,326.1L125.5,322.1L123.9,318.1L121.8,313.5L119.7,309.5L117.2,305.5L114.5,301.5L108.6,294.1L101.6,286.8L97.5,283.1L93.5,279.8L84.8,273.6L75.5,268.0L65.4,263.1L55.4,259.1L44.7,255.8L39.4,254.5L33.3,253.3L22.7,251.9L17.3,251.5Z" fill="#7ecb5c" fill-rule="evenodd"/>
<path d="M12.6,250.8L12.6,233.4L229.2,233.4L229.2,342.8L129.9,342.8L129.8,338.8L129.4,334.8L128.6,330.1L127.6,326.1L126.0,321.5L124.4,317.5L122.6,313.5L120.5,309.5L118.0,305.5L115.3,301.5L112.3,297.5L108.9,293.5L105.1,289.5L101.7,286.1L94.2,279.7L85.5,273.4L76.1,267.8L66.1,262.9L55.4,258.6L44.7,255.3L34.7,253.1L24.7,251.6L18.6,251.2L12.6,251.0Z" fill="#8fcb4e" fill-rule="evenodd"/>
<path d="M12.6,250.1L12.6,233.4L229.2,233.4L229.2,342.8L130.7,342.8L130.6,338.8L130.2,334.8L129.4,330.1L128.4,326.1L127.1,322.1L125.3,317.5L123.4,313.5L121.3,309.5L118.9,305.5L116.1,301.5L113.1,297.5L109.7,293.5L102.6,286.1L94.8,279.5L86.1,273.2L76.8,267.6L66.8,262.6L56.7,258.6L46.0,255.2L36.0,252.9L30.0,251.9L24.0,251.1L18.0,250.7L12.6,250.6Z" fill="#a1c842" fill-rule="evenodd"/>
<path d="M12.6,250.1L12.6,233.4L229.2,233.4L229.2,342.8L131.5,342.8L131.4,338.8L131.0,334.8L130.3,330.8L129.2,326.1L127.9,322.1L126.1,317.5L124.2,313.5L122.1,309.5L119.7,305.5L117.0,301.5L114.0,297.5L110.6,293.5L103.5,286.1L95.5,279.2L86.8,273.0L81.5,269.7L76.8,267.0L71.4,264.3L66.1,261.8L56.1,257.9L45.4,254.6L34.7,252.2L28.7,251.3L23.3,250.7Z" fill="#b3c536" fill-rule="evenodd"/>
<path d="M12.6,249.4L12.6,233.4L229.2,233.4L229.2,342.8L132.4,342.8L132.3,338.8L131.9,334.8L131.2,330.8L130.0,326.1L128.5,321.5L127.0,317.5L125.1,313.5L122.6,308.8L120.2,304.8L117.4,300.8L114.4,296.8L111.0,292.8L103.7,285.5L95.9,278.8L86.8,272.3L81.5,269.0L76.8,266.4L67.4,261.8L56.7,257.6L46.0,254.3L35.4,251.9L25.3,250.4L18.6,249.9L12.6,249.7Z" fill="#c5c22a" fill-rule="evenodd"/>
<path d="M12.6,248.8L12.6,233.4L229.2,233.4L229.2,342.8L133.3,342.8L133.2,338.8L132.8,334.8L132.1,330.8L131.1,326.8L129.9,322.8L128.1,318.1L126.0,313.5L123.9,309.5L121.5,305.5L118.8,301.5L115.8,297.5L112.5,293.5L108.8,289.5L104.9,285.6L96.8,278.7L88.2,272.5L82.8,269.1L78.1,266.5L68.1,261.6L57.4,257.3L46.7,254.0L36.7,251.6L30.0,250.5L24.0,249.8L18.0,249.4L12.6,249.3Z" fill="#d2bf2d" fill-rule="evenodd"/>
<path d="M12.6,248.8L12.6,233.4L229.2,233.4L229.2,342.8L134.2,342.8L134.1,338.8L133.7,334.8L133.0,330.8L131.9,326.1L130.6,322.1L128.8,317.5L126.6,312.8L124.5,308.8L122.1,304.8L118.8,300.1L115.7,296.1L112.3,292.1L105.0,284.8L96.8,277.9L88.2,271.7L82.8,268.4L78.1,265.8L72.8,263.1L67.4,260.7L56.7,256.5L45.4,253.1L34.0,250.6L28.0,249.7L22.7,249.2Z" fill="#dfbd30" fill-rule="evenodd"/>
<path d="M12.6,248.1L12.6,233.4L229.2,233.4L229.2,342.8L135.2,342.8L135.1,338.8L134.6,334.1L133.9,330.1L132.7,325.5L131.4,321.5L129.8,317.5L128.0,313.5L125.5,308.8L123.1,304.8L120.4,300.8L117.3,296.8L114.0,292.8L110.3,288.8L106.2,284.8L98.2,278.0L89.5,271.8L84.1,268.5L79.5,265.8L74.1,263.1L68.8,260.6L58.1,256.4L47.4,253.1L42.0,251.7L35.4,250.3L24.7,248.8L18.6,248.4L12.6,248.3Z" fill="#ecba32" fill-rule="evenodd"/>
<path d="M12.6,247.4L12.6,233.4L229.2,233.4L229.2,342.8L136.2,342.8L136.1,338.8L135.7,334.8L135.1,330.8L133.9,326.1L132.7,322.1L130.9,317.5L128.7,312.8L126.6,308.8L123.7,304.1L121.0,300.1L117.9,296.1L114.5,292.1L110.7,288.1L106.9,284.4L98.7,277.5L89.5,271.0L79.5,265.1L68.8,259.9L58.1,255.7L47.4,252.5L41.4,251.0L35.4,249.8L25.3,248.4L18.6,247.8L12.6,247.7Z" fill="#f2bf33" fill-rule="evenodd"/>
<path d="M12.6,246.8L12.6,233.4L229.2,233.4L229.2,342.8L137.3,342.8L137.3,338.8L136.8,334.1L135.9,329.5L134.9,325.5L133.3,320.8L131.7,316.8L129.9,312.8L127.4,308.1L124.5,303.5L121.7,299.5L118.6,295.5L115.1,291.5L107.9,284.1L99.5,277.1L94.8,273.6L90.2,270.5L80.1,264.6L70.1,259.8L64.1,257.3L58.7,255.3L47.4,251.8L36.0,249.3L26.0,247.8L18.6,247.3L12.6,247.1Z" fill="#f8c434" fill-rule="evenodd"/>
<path d="M12.6,246.1L12.6,233.4L229.2,233.4L229.2,342.8L138.6,342.8L138.5,338.8L138.0,334.1L137.3,330.1L136.1,325.5L134.6,320.8L133.0,316.8L131.1,312.8L128.6,308.1L125.8,303.5L123.0,299.5L119.9,295.5L116.5,291.5L112.7,287.5L108.9,283.8L104.7,280.1L100.2,276.5L95.5,273.1L90.8,270.0L86.1,267.1L80.1,263.7L70.1,259.0L58.7,254.5L47.4,251.1L36.0,248.6L30.0,247.7L24.0,247.0L18.0,246.6L12.6,246.5Z" fill="#fec834" fill-rule="evenodd"/>
<path d="M12.6,245.4L12.6,233.4L229.2,233.4L229.2,342.8L139.9,342.8L139.9,338.8L139.4,334.1L138.7,330.1L137.5,325.5L136.0,320.8L134.4,316.8L132.6,312.8L130.1,308.1L127.2,303.5L124.4,299.5L121.4,295.5L118.0,291.5L114.2,287.5L110.2,283.6L106.2,280.1L101.5,276.3L92.2,269.7L82.1,263.8L76.8,261.1L70.8,258.3L59.4,253.9L48.0,250.5L42.0,249.1L36.0,247.9L26.0,246.4L19.3,245.9L12.6,245.8Z" fill="#fbd230" fill-rule="evenodd"/>
<path d="M12.6,244.8L12.6,233.4L229.2,233.4L229.2,342.8L141.5,342.8L141.4,338.8L141.0,334.8L140.2,330.1L139.1,325.5L137.8,321.5L136.0,316.8L133.8,312.1L131.3,307.5L126.1,299.5L122.5,294.8L119.1,290.8L115.3,286.8L111.5,283.2L107.5,279.7L102.9,275.9L98.2,272.5L93.5,269.3L88.8,266.4L82.8,263.1L72.1,257.9L66.8,255.7L60.1,253.2L48.7,249.8L42.7,248.3L36.7,247.1L26.0,245.6L19.3,245.1L12.6,244.9Z" fill="#f8db2b" fill-rule="evenodd"/>
<path d="M12.6,243.4L12.6,233.4L229.2,233.4L229.2,342.8L143.4,342.8L143.3,338.8L142.8,334.1L141.9,329.5L140.7,324.8L139.2,320.1L137.3,315.5L133.2,307.5L129.9,302.1L127.1,298.1L123.9,294.1L120.5,290.1L116.6,286.1L112.9,282.5L108.9,279.0L104.2,275.3L99.5,271.8L94.2,268.3L84.1,262.4L78.8,259.7L72.8,257.0L61.4,252.6L50.1,249.1L38.0,246.4L30.7,245.2L24.7,244.5L18.0,244.1L12.6,244.0Z" fill="#f5e526" fill-rule="evenodd"/>
<path d="M12.6,242.8L12.6,233.4L229.2,233.4L229.2,342.8L145.6,342.8L145.6,338.8L145.2,334.8L144.4,330.1L143.3,325.5L141.8,320.8L139.9,316.1L137.8,311.5L135.2,306.8L132.7,302.8L129.5,298.1L125.9,293.5L122.4,289.5L118.5,285.5L114.2,281.4L110.2,277.9L104.9,273.7L95.5,267.3L90.8,264.5L84.8,261.1L79.5,258.5L73.4,255.8L66.8,253.1L61.4,251.2L50.1,247.8L44.0,246.3L37.4,245.0L30.0,243.9L24.0,243.2L18.6,242.9Z" fill="#f6ec20" fill-rule="evenodd"/>
<path d="M12.6,240.8L12.6,233.4L229.2,233.4L229.2,342.8L148.9,342.8L148.8,338.8L148.4,334.8L147.5,329.5L146.5,325.5L145.3,321.5L143.2,316.1L141.1,311.5L138.6,306.8L135.2,301.5L132.4,297.5L129.3,293.5L125.9,289.5L122.1,285.5L117.6,281.1L112.9,277.0L108.2,273.3L103.5,270.0L98.2,266.4L92.8,263.2L86.8,259.9L75.5,254.5L68.8,251.8L62.8,249.7L56.7,247.8L49.4,245.8L37.4,243.3L26.7,241.8L19.3,241.2L12.6,241.1Z" fill="#f8f31a" fill-rule="evenodd"/>
<path d="M12.6,237.4L12.6,233.4L229.2,233.4L229.2,342.8L154.9,342.8L154.8,338.1L154.2,332.8L153.3,328.1L152.0,323.5L150.4,318.8L148.5,314.1L145.9,308.8L143.3,304.1L140.7,300.1L137.4,295.5L133.1,290.1L129.4,286.1L125.5,282.1L120.9,277.9L116.9,274.5L111.5,270.4L106.9,267.1L101.5,263.7L96.2,260.5L90.2,257.3L84.1,254.4L78.1,251.7L66.1,247.2L59.4,245.0L52.7,243.2L40.0,240.4L32.0,239.2L25.3,238.4L18.6,238.0L12.6,237.9Z" fill="#f9fb15" fill-rule="evenodd"/>
</g>
<text x="40.30" y="348.16" font-family="Liberation Sans, Arial, Helvetica, sans-serif" font-size="5.3" font-weight="normal" text-anchor="middle" fill="#151515" stroke="#151515" stroke-width="0.1">1</text>
<text x="67.10" y="348.16" font-family="Liberation Sans, Arial, Helvetica, sans-serif" font-size="5.3" font-weight="normal" text-anchor="middle" fill="#151515" stroke="#151515" stroke-width="0.1">2</text>
<text x="93.90" y="348.16" font-family="Liberation Sans, Arial, Helvetica, sans-serif" font-size="5.3" font-weight="normal" text-anchor="middle" fill="#151515" stroke="#151515" stroke-width="0.1">3</text>
<text x="120.70" y="348.16" font-family="Liberation Sans, Arial, Helvetica, sans-serif" font-size="5.3" font-weight="normal" text-anchor="middle" fill="#151515" stroke="#151515" stroke-width="0.1">4</text>
<text x="147.50" y="348.16" font-family="Liberation Sans, Arial, Helvetica, sans-serif" font-size="5.3" font-weight="normal" text-anchor="middle" fill="#151515" stroke="#151515" stroke-width="0.1">5</text>
<text x="174.30" y="348.16" font-family="Liberation Sans, Arial, Helvetica, sans-serif" font-size="5.3" font-weight="normal" text-anchor="middle" fill="#151515" stroke="#151515" stroke-width="0.1">6</text>
<text x="201.10" y="348.16" font-family="Liberation Sans, Arial, Helvetica, sans-serif" font-size="5.3" font-weight="normal" text-anchor="middle" fill="#151515" stroke="#151515" stroke-width="0.1">7</text>
<text x="13.60" y="330.72" font-family="Liberation Sans, Arial, Helvetica, sans-serif" font-size="5.3" font-weight="normal" text-anchor="end" fill="#151515" stroke="#151515" stroke-width="0.1">0.5</text>
<text x="13.60" y="317.34" font-family="Liberation Sans, Arial, Helvetica, sans-serif" font-size="5.3" font-weight="normal" text-anchor="end" fill="#151515" stroke="#151515" stroke-width="0.1">1</text>
<text x="13.60" y="303.95" font-family="Liberation Sans, Arial, Helvetica, sans-serif" font-size="5.3" font-weight="normal" text-anchor="end" fill="#151515" stroke="#151515" stroke-width="0.1">1.5</text>
<text x="13.60" y="290.57" font-family="Liberation Sans, Arial, Helvetica, sans-serif" font-size="5.3" font-weight="normal" text-anchor="end" fill="#151515" stroke="#151515" stroke-width="0.1">2</text>
<text x="13.60" y="277.18" font-family="Liberation Sans, Arial, Helvetica, sans-serif" font-size="5.3" font-weight="normal" text-anchor="end" fill="#151515" stroke="#151515" stroke-width="0.1">2.5</text>
<text x="13.60" y="263.80" font-family="Liberation Sans, Arial, Helvetica, sans-serif" font-size="5.3" font-weight="normal" text-anchor="end" fill="#151515" stroke="#151515" stroke-width="0.1">3</text>
<text x="13.60" y="250.41" font-family="Liberation Sans, Arial, Helvetica, sans-serif" font-size="5.3" font-weight="normal" text-anchor="end" fill="#151515" stroke="#151515" stroke-width="0.1">3.5</text>
<text x="121.00" y="358.00" font-family="Liberation Sans, Arial, Helvetica, sans-serif" font-size="7.8" font-weight="normal" text-anchor="middle" fill="#141414" stroke="#141414" stroke-width="0.14">X(m)</text>
<text transform="translate(6.80,288.40) rotate(-90)" font-family="Liberation Sans, Arial, Helvetica, sans-serif" font-size="7.8" text-anchor="middle" fill="#141414" stroke="#141414" stroke-width="0.14">Y(m)</text>
<rect x="231.20" y="236.10" width="8.60" height="104.50" fill="url(#pg)" stroke="#555" stroke-width="0.35"/>
<text x="241.80" y="341.68" font-family="Liberation Sans, Arial, Helvetica, sans-serif" font-size="4.4" font-weight="normal" text-anchor="start" fill="#151515" stroke="#151515" stroke-width="0.1">0</text>
<text x="241.80" y="326.88" font-family="Liberation Sans, Arial, Helvetica, sans-serif" font-size="4.4" font-weight="normal" text-anchor="start" fill="#151515" stroke="#151515" stroke-width="0.1">0.1</text>
<text x="241.80" y="312.08" font-family="Liberation Sans, Arial, Helvetica, sans-serif" font-size="4.4" font-weight="normal" text-anchor="start" fill="#151515" stroke="#151515" stroke-width="0.1">0.2</text>
<text x="241.80" y="297.28" font-family="Liberation Sans, Arial, Helvetica, sans-serif" font-size="4.4" font-weight="normal" text-anchor="start" fill="#151515" stroke="#151515" stroke-width="0.1">0.3</text>
<text x="241.80" y="282.48" font-family="Liberation Sans, Arial, Helvetica, sans-serif" font-size="4.4" font-weight="normal" text-anchor="start" fill="#151515" stroke="#151515" stroke-width="0.1">0.4</text>
<text x="241.80" y="267.68" font-family="Liberation Sans, Arial, Helvetica, sans-serif" font-size="4.4" font-weight="normal" text-anchor="start" fill="#151515" stroke="#151515" stroke-width="0.1">0.5</text>
<text x="241.80" y="252.88" font-family="Liberation Sans, Arial, Helvetica, sans-serif" font-size="4.4" font-weight="normal" text-anchor="start" fill="#151515" stroke="#151515" stroke-width="0.1">0.6</text>
<text x="235.50" y="232.80" font-family="Liberation Sans, Arial, Helvetica, sans-serif" font-size="6.3" font-weight="normal" text-anchor="middle" fill="#141414" stroke="#141414" stroke-width="0.14">fraction</text>
<text x="258.40" y="229.80" font-family="Liberation Serif, Times New Roman, serif" font-size="10.4" text-anchor="start" fill="#111" letter-spacing="0.75" font-weight="bold">(d)</text>
<text x="389.30" y="234.80" font-family="Liberation Sans, Arial, Helvetica, sans-serif" font-size="8.4" font-weight="bold" text-anchor="middle" fill="#000">Saturation of the oil phase</text>
<rect x="283.85" y="238.1" width="211.85" height="104.00" fill="#17bfb6"/>
<text x="308.47" y="349.41" font-family="Liberation Sans, Arial, Helvetica, sans-serif" font-size="5.3" font-weight="normal" text-anchor="middle" fill="#151515" stroke="#151515" stroke-width="0.1">1</text>
<text x="335.34" y="349.41" font-family="Liberation Sans, Arial, Helvetica, sans-serif" font-size="5.3" font-weight="normal" text-anchor="middle" fill="#151515" stroke="#151515" stroke-width="0.1">2</text>
<text x="362.21" y="349.41" font-family="Liberation Sans, Arial, Helvetica, sans-serif" font-size="5.3" font-weight="normal" text-anchor="middle" fill="#151515" stroke="#151515" stroke-width="0.1">3</text>
<text x="389.08" y="349.41" font-family="Liberation Sans, Arial, Helvetica, sans-serif" font-size="5.3" font-weight="normal" text-anchor="middle" fill="#151515" stroke="#151515" stroke-width="0.1">4</text>
<text x="415.95" y="349.41" font-family="Liberation Sans, Arial, Helvetica, sans-serif" font-size="5.3" font-weight="normal" text-anchor="middle" fill="#151515" stroke="#151515" stroke-width="0.1">5</text>
<text x="442.82" y="349.41" font-family="Liberation Sans, Arial, Helvetica, sans-serif" font-size="5.3" font-weight="normal" text-anchor="middle" fill="#151515" stroke="#151515" stroke-width="0.1">6</text>
<text x="469.69" y="349.41" font-family="Liberation Sans, Arial, Helvetica, sans-serif" font-size="5.3" font-weight="normal" text-anchor="middle" fill="#151515" stroke="#151515" stroke-width="0.1">7</text>
<text x="281.30" y="332.81" font-family="Liberation Sans, Arial, Helvetica, sans-serif" font-size="5.3" font-weight="normal" text-anchor="end" fill="#151515" stroke="#151515" stroke-width="0.1">0.5</text>
<text x="281.30" y="319.36" font-family="Liberation Sans, Arial, Helvetica, sans-serif" font-size="5.3" font-weight="normal" text-anchor="end" fill="#151515" stroke="#151515" stroke-width="0.1">1</text>
<text x="281.30" y="305.91" font-family="Liberation Sans, Arial, Helvetica, sans-serif" font-size="5.3" font-weight="normal" text-anchor="end" fill="#151515" stroke="#151515" stroke-width="0.1">1.5</text>
<text x="281.30" y="292.46" font-family="Liberation Sans, Arial, Helvetica, sans-serif" font-size="5.3" font-weight="normal" text-anchor="end" fill="#151515" stroke="#151515" stroke-width="0.1">2</text>
<text x="281.30" y="279.01" font-family="Liberation Sans, Arial, Helvetica, sans-serif" font-size="5.3" font-weight="normal" text-anchor="end" fill="#151515" stroke="#151515" stroke-width="0.1">2.5</text>
<text x="281.30" y="265.56" font-family="Liberation Sans, Arial, Helvetica, sans-serif" font-size="5.3" font-weight="normal" text-anchor="end" fill="#151515" stroke="#151515" stroke-width="0.1">3</text>
<text x="281.30" y="252.11" font-family="Liberation Sans, Arial, Helvetica, sans-serif" font-size="5.3" font-weight="normal" text-anchor="end" fill="#151515" stroke="#151515" stroke-width="0.1">3.5</text>
<text x="390.00" y="359.60" font-family="Liberation Sans, Arial, Helvetica, sans-serif" font-size="7.8" font-weight="normal" text-anchor="middle" fill="#141414" stroke="#141414" stroke-width="0.14">X(m)</text>
<text transform="translate(275.10,290.00) rotate(-90)" font-family="Liberation Sans, Arial, Helvetica, sans-serif" font-size="7.8" text-anchor="middle" fill="#141414" stroke="#141414" stroke-width="0.14">Y(m)</text>
<rect x="499.70" y="238.10" width="8.80" height="104.30" fill="url(#pg)" stroke="#555" stroke-width="0.35"/>
<text x="510.50" y="344.28" font-family="Liberation Sans, Arial, Helvetica, sans-serif" font-size="4.4" font-weight="normal" text-anchor="start" fill="#151515" stroke="#151515" stroke-width="0.1">0</text>
<text x="510.50" y="318.28" font-family="Liberation Sans, Arial, Helvetica, sans-serif" font-size="4.4" font-weight="normal" text-anchor="start" fill="#151515" stroke="#151515" stroke-width="0.1">0.5</text>
<text x="510.50" y="292.28" font-family="Liberation Sans, Arial, Helvetica, sans-serif" font-size="4.4" font-weight="normal" text-anchor="start" fill="#151515" stroke="#151515" stroke-width="0.1">1</text>
<text x="510.50" y="266.28" font-family="Liberation Sans, Arial, Helvetica, sans-serif" font-size="4.4" font-weight="normal" text-anchor="start" fill="#151515" stroke="#151515" stroke-width="0.1">1.5</text>
<text x="510.50" y="240.28" font-family="Liberation Sans, Arial, Helvetica, sans-serif" font-size="4.4" font-weight="normal" text-anchor="start" fill="#151515" stroke="#151515" stroke-width="0.1">2</text>
<text x="504.00" y="235.00" font-family="Liberation Sans, Arial, Helvetica, sans-serif" font-size="6.3" font-weight="normal" text-anchor="middle" fill="#141414" stroke="#141414" stroke-width="0.14">saturation</text>
<text x="262.50" y="7.90" font-family="Liberation Serif, Times New Roman, serif" font-size="10.4" text-anchor="start" fill="#111" letter-spacing="0.75" font-weight="bold">(b)</text>
<text x="403.00" y="8.20" font-family="Liberation Sans, Arial, Helvetica, sans-serif" font-size="8.4" font-weight="bold" text-anchor="middle" fill="#000">Streamlines of Darcy velocity</text>
<path d="M516.1,45.6L514.3,113.8L513.8,125.2L513.2,133.7L512.1,140.8L511.3,143.8L510.4,146.2L509.5,147.9L508.2,149.5L506.7,150.8L504.8,152.0L503.2,152.7L500.5,153.5L494.9,154.5L487.8,155.1L477.8,155.5L452.2,155.8L354.1,156.5L290.1,157.9M516.1,45.5L515.9,45.7L511.4,106.8L510.2,118.1L509.0,126.6L508.1,130.7L507.2,133.7L506.1,136.7L504.7,139.5L503.4,141.3L501.9,143.0L500.4,144.4L497.8,146.1L496.0,147.0L493.3,148.0L487.8,149.3L480.5,150.3L472.0,151.0L460.6,151.4L443.5,151.8L361.3,153.3L345.6,153.9L328.6,155.0M516.1,45.4L515.8,45.9L508.6,104.1L506.8,115.0L505.3,122.3L504.4,125.3L503.2,128.8L501.8,131.9L500.4,134.4L498.7,136.6L496.2,139.0L494.6,140.2L491.9,141.8L487.7,143.5L483.3,144.7L477.7,145.7L469.2,146.6L459.3,147.2L443.6,147.8L371.1,149.9L354.0,150.6L344.1,151.4L331.4,152.7L290.4,157.7L289.9,157.9M510.2,78.3L506.9,96.8L504.7,108.0L502.6,116.6L500.3,123.0L499.1,125.9L497.7,128.4L496.2,130.5L494.6,132.4L493.1,133.8L490.4,135.9L487.7,137.5L484.8,138.7L480.5,140.1L474.9,141.2L467.9,142.2L459.4,142.9L426.7,144.5L368.3,146.7L359.8,147.2L351.3,147.9L342.5,148.9L331.3,150.6L290.3,157.6L289.8,157.9M516.1,45.2L515.7,45.6L514.7,50.6L503.8,98.1L501.6,106.7L499.3,114.0L497.7,118.2L496.3,121.0L494.7,123.8L493.4,125.6L491.4,128.0L489.1,130.1L487.5,131.3L484.8,132.9L480.7,134.8L476.3,136.1L470.4,137.3L463.4,138.2L453.5,139.1L436.4,140.2L372.8,143.3L359.7,144.1L351.2,145.0L342.8,146.3L332.7,148.2L320.7,150.8M516.1,45.1L515.5,45.8L514.7,49.4L501.8,95.2L499.0,104.1L496.2,111.6L494.8,114.7L493.3,117.5L491.8,119.9L489.7,122.6L487.7,124.6L485.3,126.6L483.2,128.0L480.7,129.4L476.2,131.2L470.7,132.7L464.8,133.7L456.3,134.7L443.9,135.8L425.1,137.0L368.3,140.3L359.8,141.0L351.3,142.1L341.5,143.9L331.2,146.3L293.9,156.5L290.3,157.4L289.7,157.9M503.0,83.8L499.1,95.1L496.2,102.8L493.4,109.0L490.4,114.2L487.5,118.1L486.2,119.6L483.4,122.0L481.1,123.7L479.1,124.8L476.3,126.1L473.6,127.2L469.3,128.4L464.3,129.5L457.8,130.4L450.7,131.2L420.9,133.6L369.6,137.0L359.9,137.9L352.6,138.9L342.6,140.9L331.3,144.0L317.2,148.5L293.2,156.5L290.2,157.3L289.6,157.9M516.1,44.9L515.3,45.8L514.7,48.0L497.6,91.7L494.8,98.3L491.9,104.2L488.8,109.6L486.8,112.3L484.8,114.7L482.7,116.7L480.7,118.3L479.1,119.5L476.4,121.1L472.0,123.0L466.2,124.7L460.7,125.8L452.2,127.0L440.9,128.2L423.6,129.6L371.1,133.5L358.3,134.9L351.3,136.1L345.5,137.4L339.7,139.0L332.7,141.2M516.1,44.8L515.3,45.7L514.7,47.6L496.1,88.9L493.3,94.8L489.9,101.1L486.2,106.8L484.0,109.4L482.1,111.5L480.4,113.1L477.7,115.2L473.5,117.6L469.1,119.4L463.9,121.0L457.7,122.2L450.7,123.2L440.5,124.4L423.8,125.9L368.4,130.5L359.7,131.5L351.3,133.0L345.7,134.4L341.4,135.7L335.7,137.6L329.9,139.9L315.8,145.9L292.1,156.5L290.2,157.1L289.4,157.9M503.7,68.7L496.2,83.5L491.9,91.5L487.7,98.6L484.9,102.6L481.8,106.3L477.8,109.9L473.6,112.8L469.2,114.9L464.9,116.4L460.5,117.6L454.9,118.7L447.9,119.7L422.1,122.4L368.5,127.1L358.3,128.5L351.1,129.9L345.6,131.4L341.2,132.8L335.7,134.9L329.9,137.4L318.6,142.9L291.7,156.5L290.1,157.1L289.3,157.9M516.1,44.7L515.1,45.7L514.7,46.8L493.3,84.1L489.2,90.9L486.2,95.4L481.9,100.7L477.7,105.0L473.4,108.2L469.4,110.4L464.9,112.2L460.5,113.5L455.0,114.7L447.7,115.9L438.1,117.0L423.6,118.5L369.8,123.7L361.3,124.7L354.0,126.0L349.9,127.0L345.5,128.3L341.2,129.8L337.0,131.5L328.5,135.6L314.3,143.4M516.1,44.6L515.1,45.6L514.6,46.6L514.2,47.0L491.9,82.1L487.6,88.5L484.9,92.2L480.7,97.2L477.6,100.2L473.4,103.6L469.0,106.2L464.8,108.0L460.5,109.5L455.0,110.8L448.0,112.0L439.5,113.2L426.8,114.6L367.0,120.6L356.9,122.2L352.7,123.0L348.5,124.1L343.9,125.7L338.7,127.8L334.1,130.0L328.6,133.0L317.1,140.0L291.6,156.1L291.2,156.5L290.1,156.9L289.1,157.9M486.7,85.4L483.5,89.4L480.4,92.8L476.4,96.7L473.5,99.0L470.4,101.1L466.4,103.2L462.1,104.9L457.8,106.3L449.4,108.0L437.9,109.7L415.2,112.2L374.2,116.4L364.0,117.6L358.4,118.5L352.8,119.7L348.4,120.9L344.4,122.2L339.9,124.1L335.8,126.1L331.3,128.6L327.0,131.3L318.5,137.0L291.7,155.8L291.0,156.4L290.0,156.9L289.0,157.9M516.1,44.4L514.9,45.6L514.7,46.1L513.9,46.9L490.6,76.8L486.2,82.0L481.9,86.9L477.7,91.2L473.6,94.7L469.3,97.5L465.0,99.8L460.8,101.5L456.2,102.9L450.6,104.1L443.6,105.3L425.3,107.5L369.8,113.4L361.1,114.6L354.1,115.9L349.7,117.1L345.6,118.4L341.4,120.1L338.6,121.4L335.6,123.0L331.4,125.5L323.0,131.4M516.1,44.3L514.9,45.5L514.6,46.0L490.5,73.7L482.0,83.0L477.7,87.1L473.6,90.6L469.4,93.5L466.1,95.3L462.0,97.2L457.7,98.6L452.2,100.1L446.3,101.2L430.8,103.3L376.7,109.1L365.4,110.5L359.8,111.4L354.2,112.4L349.8,113.6L345.7,114.9L341.3,116.7L336.9,118.9L332.8,121.4L327.0,125.5L315.7,134.7L291.6,155.4L290.6,156.4L290.1,156.7L288.9,157.9M490.9,70.6L480.6,80.8L476.3,84.5L472.0,87.8L468.0,90.4L464.9,92.0L460.8,93.8L456.2,95.4L452.0,96.4L447.9,97.3L437.7,98.8L375.5,105.8L362.5,107.4L356.9,108.4L351.3,109.6L347.0,110.9L342.7,112.5L338.3,114.5L334.2,117.0L330.0,119.9L325.7,123.3L321.4,127.0L314.3,133.6L288.8,157.9M516.0,44.2L490.5,68.5L483.4,75.1L479.1,78.8L474.8,82.2L470.6,85.1L466.5,87.6L462.1,89.6L457.8,91.2L453.5,92.5L447.9,93.7L442.3,94.7L429.3,96.3L367.1,103.2L356.9,104.8L352.8,105.6L348.6,106.7L344.0,108.2L339.9,110.1L336.8,111.7L332.8,114.3L328.5,117.6L324.2,121.3L313.9,131.5M515.9,44.2L514.7,45.4L514.2,45.7L513.2,46.7L489.1,67.4L477.8,76.6L472.0,80.7L467.9,83.2L463.5,85.4L459.1,87.2L455.0,88.5L450.6,89.7L445.0,90.7L439.4,91.6L428.1,93.0L374.0,98.8L358.5,100.9L352.6,102.0L347.1,103.4L342.8,104.9L338.7,106.8L335.4,108.6L331.2,111.5L327.1,115.0L322.8,119.1L314.3,128.4L290.2,156.1L289.9,156.6L288.7,157.8M481.8,70.7L473.4,76.6L469.2,79.1L466.2,80.7L463.4,82.0L459.2,83.7L455.1,85.0L450.7,86.2L443.7,87.5L435.0,88.7L379.5,94.6L361.2,96.8L354.2,98.0L348.6,99.2L344.0,100.6L339.8,102.3L335.5,104.6L331.2,107.4L327.1,110.9L322.9,115.2L318.6,120.1L314.2,125.3L290.9,155.2L290.1,156.0L289.9,156.5L288.7,157.7M515.8,44.2L514.8,45.2L513.8,45.7L513.1,46.3L486.3,65.1L477.8,70.8L473.5,73.5L469.0,76.0L464.9,78.0L460.4,79.9L456.4,81.2L452.0,82.4L446.4,83.6L440.8,84.5L430.6,85.7L389.6,89.9L366.9,92.4L355.4,94.1L347.0,95.8L342.7,97.2L338.4,98.9L334.4,101.0L331.3,103.1L328.4,105.4L324.4,109.3L321.3,112.7L318.1,116.7M515.7,44.2L514.7,45.2L513.6,45.6L513.2,46.0L487.7,62.1L476.2,69.1L470.7,72.1L466.1,74.3L460.9,76.4L456.3,78.0L452.1,79.1L447.9,79.9L437.8,81.5L378.0,87.5L365.3,88.9L356.8,90.1L349.8,91.3L344.3,92.6L340.0,94.1L335.8,95.9L331.4,98.5L327.2,101.9L324.1,104.9L319.9,109.9L317.2,113.6L312.9,120.0L290.6,155.1L290.2,155.5L289.7,156.5L288.7,157.5M490.5,58.7L476.3,66.5L467.8,70.5L463.6,72.3L459.3,73.8L454.9,75.1L450.8,76.1L443.5,77.4L435.0,78.4L381.2,83.5L366.7,85.1L357.1,86.2L349.8,87.4L344.3,88.6L339.9,89.9L335.4,91.7L331.4,93.9L327.1,97.1L322.9,101.4L318.6,106.7L315.6,111.2L311.5,118.0L290.1,155.3L289.7,156.4L288.7,157.4M515.5,44.2L514.7,45.0L513.1,45.6L486.2,59.2L474.9,64.6L469.1,67.2L463.6,69.3L459.2,70.7L453.7,72.2L446.5,73.6L436.3,74.9L382.7,79.7L356.9,82.4L349.9,83.4L344.3,84.5L339.9,85.7L335.6,87.2L331.2,89.3L327.0,92.2L323.0,95.8L319.9,99.5L317.1,103.5L312.9,110.6L308.6,118.6L301.1,133.3M515.4,44.2L514.6,45.0L512.7,45.6L489.0,56.2L474.9,62.2L469.1,64.5L463.4,66.4L459.1,67.7L453.5,69.1L445.1,70.6L436.4,71.6L381.0,76.2L364.3,77.7L354.1,78.9L347.1,79.9L340.9,81.1L335.7,82.7L331.3,84.5L327.1,86.9L324.4,89.0L322.7,90.6L320.8,92.7L318.6,95.3L314.9,101.0L311.5,107.3L308.7,113.2L290.1,154.5L289.5,156.4L288.7,157.3M472.1,60.9L465.1,63.1L459.3,64.7L453.5,66.0L446.5,67.2L433.7,68.6L381.2,72.5L363.9,73.9L352.6,75.1L344.1,76.3L338.6,77.4L332.8,79.1L328.4,81.0L325.7,82.6L324.1,83.8L322.1,85.4L320.0,87.4L318.0,89.7L316.0,92.5L312.9,97.9L310.0,103.8L307.2,110.4L290.1,154.1L289.5,156.3L288.7,157.2M515.2,44.2L514.6,44.8L511.6,45.6L487.6,53.6L473.5,58.1L462.2,61.2L452.2,63.2L444.9,64.2L435.2,65.1L383.9,68.5L354.1,70.9L347.0,71.7L340.5,72.6L335.5,73.7L331.2,74.9L328.5,75.9L325.7,77.3L323.7,78.4L321.4,80.1L318.6,82.5L317.3,84.0L314.4,87.9L311.4,93.1L308.6,99.3L305.7,107.0L301.8,118.3M515.1,44.2L514.5,44.7L510.9,45.6L473.6,55.8L463.3,58.2L453.5,60.0L445.0,61.1L436.5,61.8L379.7,65.1L360.9,66.3L348.5,67.4L340.0,68.4L334.1,69.4L328.6,70.9L324.1,72.7L321.6,74.1L319.5,75.5L317.1,77.5L315.1,79.5L313.0,82.2L311.5,84.6L310.0,87.4L308.6,90.5L305.8,98.0L303.0,106.9L290.1,152.7L289.3,156.3L288.7,157.0M484.1,51.3L472.1,53.9L462.0,55.8L453.6,57.1L445.1,57.9L432.0,58.8L368.4,61.9L351.3,63.0L341.4,63.9L334.4,64.8L328.5,66.0L324.1,67.3L320.0,69.1L317.3,70.8L315.7,72.0L313.4,74.1L311.4,76.5L310.1,78.3L308.5,81.0L307.1,83.9L305.5,88.1L303.2,95.4L301.0,104.0L290.1,151.5L289.1,156.5L288.7,156.9M515.0,44.2L514.5,44.5L473.5,51.5L462.3,53.2L453.5,54.2L445.0,54.9L436.5,55.4L378.1,57.6L345.4,59.2L336.9,59.9L329.9,60.9L324.3,62.0L320.0,63.4L317.1,64.6L314.4,66.2L311.7,68.3L310.2,69.7L308.6,71.6L307.1,73.7L305.7,76.2L304.5,79.1L302.2,85.5L300.1,94.1L297.9,105.3L294.6,123.8M514.9,44.2L514.4,44.4L473.4,49.4L460.7,50.7L450.8,51.5L433.7,52.2L361.2,54.3L345.5,54.9L335.6,55.5L327.1,56.4L321.5,57.4L317.1,58.6L312.9,60.3L310.2,61.9L308.6,63.1L306.1,65.5L304.4,67.7L303.0,70.2L301.6,73.3L300.4,76.8L299.5,79.8L298.0,87.1L296.2,98.0L289.0,156.2L288.7,156.7M476.2,47.1L459.2,48.2L443.5,48.8L361.3,50.3L344.2,50.7L332.8,51.1L324.3,51.8L317.0,52.8L311.5,54.1L308.8,55.1L307.0,56.0L304.4,57.7L302.9,59.1L301.4,60.8L300.1,62.6L298.7,65.4L297.6,68.4L296.7,71.4L295.8,75.5L294.6,84.0L293.4,95.3L288.9,156.4L288.7,156.6M514.7,44.2L450.7,45.6L352.6,46.3L327.0,46.6L317.0,47.0L309.9,47.6L304.3,48.6L301.6,49.4L300.0,50.1L298.1,51.3L296.6,52.6L295.3,54.2L294.4,55.9L293.5,58.3L292.7,61.3L291.6,68.4L291.0,76.9L290.5,88.3L288.7,156.5" fill="none" stroke="#555" stroke-width="0.45" stroke-linejoin="round"/>
<g fill="#606060" stroke="none"><path transform="translate(295.1,149.8) rotate(-52)" d="M-1.1,-1L1.3,0L-1.1,1Z"/><path transform="translate(294.3,137.9) rotate(-74)" d="M-1.1,-1L1.3,0L-1.1,1Z"/><path transform="translate(295.7,127.0) rotate(-77)" d="M-1.1,-1L1.3,0L-1.1,1Z"/><path transform="translate(294.0,115.3) rotate(-83)" d="M-1.1,-1L1.3,0L-1.1,1Z"/><path transform="translate(295.4,104.2) rotate(-83)" d="M-1.1,-1L1.3,0L-1.1,1Z"/><path transform="translate(293.7,92.8) rotate(-85)" d="M-1.1,-1L1.3,0L-1.1,1Z"/><path transform="translate(294.9,81.5) rotate(-82)" d="M-1.1,-1L1.3,0L-1.1,1Z"/><path transform="translate(296.9,70.8) rotate(-75)" d="M-1.1,-1L1.3,0L-1.1,1Z"/><path transform="translate(293.4,58.6) rotate(-73)" d="M-1.1,-1L1.3,0L-1.1,1Z"/><path transform="translate(297.9,51.5) rotate(-38)" d="M-1.1,-1L1.3,0L-1.1,1Z"/><path transform="translate(318.6,149.7) rotate(-15)" d="M-1.1,-1L1.3,0L-1.1,1Z"/><path transform="translate(318.0,137.3) rotate(-35)" d="M-1.1,-1L1.3,0L-1.1,1Z"/><path transform="translate(318.5,126.9) rotate(-45)" d="M-1.1,-1L1.3,0L-1.1,1Z"/><path transform="translate(318.8,115.8) rotate(-52)" d="M-1.1,-1L1.3,0L-1.1,1Z"/><path transform="translate(317.3,103.3) rotate(-57)" d="M-1.1,-1L1.3,0L-1.1,1Z"/><path transform="translate(319.7,94.0) rotate(-51)" d="M-1.1,-1L1.3,0L-1.1,1Z"/><path transform="translate(319.0,82.1) rotate(-44)" d="M-1.1,-1L1.3,0L-1.1,1Z"/><path transform="translate(318.3,70.1) rotate(-32)" d="M-1.1,-1L1.3,0L-1.1,1Z"/><path transform="translate(318.2,58.3) rotate(-17)" d="M-1.1,-1L1.3,0L-1.1,1Z"/><path transform="translate(318.4,46.9) rotate(-3)" d="M-1.1,-1L1.3,0L-1.1,1Z"/><path transform="translate(342.0,149.0) rotate(-8)" d="M-1.1,-1L1.3,0L-1.1,1Z"/><path transform="translate(342.2,138.2) rotate(-16)" d="M-1.1,-1L1.3,0L-1.1,1Z"/><path transform="translate(342.1,126.4) rotate(-22)" d="M-1.1,-1L1.3,0L-1.1,1Z"/><path transform="translate(342.3,116.2) rotate(-23)" d="M-1.1,-1L1.3,0L-1.1,1Z"/><path transform="translate(342.5,105.1) rotate(-22)" d="M-1.1,-1L1.3,0L-1.1,1Z"/><path transform="translate(342.4,93.2) rotate(-18)" d="M-1.1,-1L1.3,0L-1.1,1Z"/><path transform="translate(342.0,80.9) rotate(-13)" d="M-1.1,-1L1.3,0L-1.1,1Z"/><path transform="translate(342.0,68.1) rotate(-8)" d="M-1.1,-1L1.3,0L-1.1,1Z"/><path transform="translate(342.0,59.5) rotate(-5)" d="M-1.1,-1L1.3,0L-1.1,1Z"/><path transform="translate(342.0,46.4) rotate(-1)" d="M-1.1,-1L1.3,0L-1.1,1Z"/><path transform="translate(365.7,150.0) rotate(-2)" d="M-1.1,-1L1.3,0L-1.1,1Z"/><path transform="translate(365.6,137.3) rotate(-5)" d="M-1.1,-1L1.3,0L-1.1,1Z"/><path transform="translate(366.0,127.4) rotate(-7)" d="M-1.1,-1L1.3,0L-1.1,1Z"/><path transform="translate(365.6,114.0) rotate(-8)" d="M-1.1,-1L1.3,0L-1.1,1Z"/><path transform="translate(365.7,103.4) rotate(-8)" d="M-1.1,-1L1.3,0L-1.1,1Z"/><path transform="translate(365.8,92.6) rotate(-7)" d="M-1.1,-1L1.3,0L-1.1,1Z"/><path transform="translate(365.7,81.4) rotate(-6)" d="M-1.1,-1L1.3,0L-1.1,1Z"/><path transform="translate(365.7,69.9) rotate(-5)" d="M-1.1,-1L1.3,0L-1.1,1Z"/><path transform="translate(365.6,58.1) rotate(-3)" d="M-1.1,-1L1.3,0L-1.1,1Z"/><path transform="translate(365.6,46.2) rotate(-0)" d="M-1.1,-1L1.3,0L-1.1,1Z"/><path transform="translate(389.3,149.4) rotate(-1)" d="M-1.1,-1L1.3,0L-1.1,1Z"/><path transform="translate(389.6,139.1) rotate(-3)" d="M-1.1,-1L1.3,0L-1.1,1Z"/><path transform="translate(389.2,125.3) rotate(-5)" d="M-1.1,-1L1.3,0L-1.1,1Z"/><path transform="translate(389.5,114.8) rotate(-6)" d="M-1.1,-1L1.3,0L-1.1,1Z"/><path transform="translate(389.4,104.2) rotate(-6)" d="M-1.1,-1L1.3,0L-1.1,1Z"/><path transform="translate(389.4,93.5) rotate(-6)" d="M-1.1,-1L1.3,0L-1.1,1Z"/><path transform="translate(389.4,82.7) rotate(-6)" d="M-1.1,-1L1.3,0L-1.1,1Z"/><path transform="translate(389.5,71.8) rotate(-4)" d="M-1.1,-1L1.3,0L-1.1,1Z"/><path transform="translate(389.2,57.1) rotate(-2)" d="M-1.1,-1L1.3,0L-1.1,1Z"/><path transform="translate(389.5,46.0) rotate(-0)" d="M-1.1,-1L1.3,0L-1.1,1Z"/><path transform="translate(412.9,148.7) rotate(-2)" d="M-1.1,-1L1.3,0L-1.1,1Z"/><path transform="translate(413.2,137.8) rotate(-3)" d="M-1.1,-1L1.3,0L-1.1,1Z"/><path transform="translate(413.0,126.8) rotate(-5)" d="M-1.1,-1L1.3,0L-1.1,1Z"/><path transform="translate(413.2,116.0) rotate(-6)" d="M-1.1,-1L1.3,0L-1.1,1Z"/><path transform="translate(413.2,105.2) rotate(-6)" d="M-1.1,-1L1.3,0L-1.1,1Z"/><path transform="translate(413.3,94.5) rotate(-6)" d="M-1.1,-1L1.3,0L-1.1,1Z"/><path transform="translate(412.9,80.5) rotate(-5)" d="M-1.1,-1L1.3,0L-1.1,1Z"/><path transform="translate(413.0,70.1) rotate(-4)" d="M-1.1,-1L1.3,0L-1.1,1Z"/><path transform="translate(413.0,59.7) rotate(-3)" d="M-1.1,-1L1.3,0L-1.1,1Z"/><path transform="translate(413.2,45.9) rotate(-0)" d="M-1.1,-1L1.3,0L-1.1,1Z"/><path transform="translate(436.8,148.0) rotate(-2)" d="M-1.1,-1L1.3,0L-1.1,1Z"/><path transform="translate(436.5,136.3) rotate(-4)" d="M-1.1,-1L1.3,0L-1.1,1Z"/><path transform="translate(436.9,128.5) rotate(-5)" d="M-1.1,-1L1.3,0L-1.1,1Z"/><path transform="translate(436.9,117.2) rotate(-6)" d="M-1.1,-1L1.3,0L-1.1,1Z"/><path transform="translate(436.4,102.6) rotate(-7)" d="M-1.1,-1L1.3,0L-1.1,1Z"/><path transform="translate(436.5,92.0) rotate(-7)" d="M-1.1,-1L1.3,0L-1.1,1Z"/><path transform="translate(436.7,81.6) rotate(-7)" d="M-1.1,-1L1.3,0L-1.1,1Z"/><path transform="translate(436.9,71.6) rotate(-6)" d="M-1.1,-1L1.3,0L-1.1,1Z"/><path transform="translate(436.6,58.6) rotate(-3)" d="M-1.1,-1L1.3,0L-1.1,1Z"/><path transform="translate(436.7,49.0) rotate(-1)" d="M-1.1,-1L1.3,0L-1.1,1Z"/><path transform="translate(460.6,151.4) rotate(-2)" d="M-1.1,-1L1.3,0L-1.1,1Z"/><path transform="translate(460.6,138.5) rotate(-5)" d="M-1.1,-1L1.3,0L-1.1,1Z"/><path transform="translate(460.4,125.9) rotate(-10)" d="M-1.1,-1L1.3,0L-1.1,1Z"/><path transform="translate(460.0,113.6) rotate(-14)" d="M-1.1,-1L1.3,0L-1.1,1Z"/><path transform="translate(460.8,105.4) rotate(-18)" d="M-1.1,-1L1.3,0L-1.1,1Z"/><path transform="translate(460.8,93.8) rotate(-21)" d="M-1.1,-1L1.3,0L-1.1,1Z"/><path transform="translate(459.9,80.1) rotate(-20)" d="M-1.1,-1L1.3,0L-1.1,1Z"/><path transform="translate(460.3,70.4) rotate(-17)" d="M-1.1,-1L1.3,0L-1.1,1Z"/><path transform="translate(460.5,58.8) rotate(-11)" d="M-1.1,-1L1.3,0L-1.1,1Z"/><path transform="translate(460.3,48.1) rotate(-3)" d="M-1.1,-1L1.3,0L-1.1,1Z"/><path transform="translate(484.2,149.9) rotate(-8)" d="M-1.1,-1L1.3,0L-1.1,1Z"/><path transform="translate(484.3,138.9) rotate(-20)" d="M-1.1,-1L1.3,0L-1.1,1Z"/><path transform="translate(484.4,127.3) rotate(-34)" d="M-1.1,-1L1.3,0L-1.1,1Z"/><path transform="translate(484.0,115.5) rotate(-45)" d="M-1.1,-1L1.3,0L-1.1,1Z"/><path transform="translate(483.8,103.9) rotate(-51)" d="M-1.1,-1L1.3,0L-1.1,1Z"/><path transform="translate(484.2,93.0) rotate(-52)" d="M-1.1,-1L1.3,0L-1.1,1Z"/><path transform="translate(483.6,81.3) rotate(-46)" d="M-1.1,-1L1.3,0L-1.1,1Z"/><path transform="translate(484.7,71.1) rotate(-40)" d="M-1.1,-1L1.3,0L-1.1,1Z"/><path transform="translate(483.8,58.4) rotate(-24)" d="M-1.1,-1L1.3,0L-1.1,1Z"/><path transform="translate(484.2,48.1) rotate(-7)" d="M-1.1,-1L1.3,0L-1.1,1Z"/><path transform="translate(508.0,149.7) rotate(-45)" d="M-1.1,-1L1.3,0L-1.1,1Z"/><path transform="translate(505.9,137.2) rotate(-65)" d="M-1.1,-1L1.3,0L-1.1,1Z"/><path transform="translate(508.9,127.1) rotate(-79)" d="M-1.1,-1L1.3,0L-1.1,1Z"/><path transform="translate(506.8,115.3) rotate(-80)" d="M-1.1,-1L1.3,0L-1.1,1Z"/><path transform="translate(508.5,104.3) rotate(-82)" d="M-1.1,-1L1.3,0L-1.1,1Z"/><path transform="translate(507.6,92.9) rotate(-80)" d="M-1.1,-1L1.3,0L-1.1,1Z"/><path transform="translate(507.7,81.5) rotate(-77)" d="M-1.1,-1L1.3,0L-1.1,1Z"/><path transform="translate(508.8,70.5) rotate(-74)" d="M-1.1,-1L1.3,0L-1.1,1Z"/><path transform="translate(507.8,58.9) rotate(-60)" d="M-1.1,-1L1.3,0L-1.1,1Z"/><path transform="translate(507.8,47.9) rotate(-24)" d="M-1.1,-1L1.3,0L-1.1,1Z"/></g>
<path d="M288.5,11.5V190.3H516" fill="none" stroke="#7a7a7a" stroke-width="0.5"/>
<text x="286.30" y="189.28" font-family="Liberation Sans, Arial, Helvetica, sans-serif" font-size="5.3" font-weight="normal" text-anchor="end" fill="#151515" stroke="#151515" stroke-width="0.1">-1</text>
<text x="286.30" y="160.41" font-family="Liberation Sans, Arial, Helvetica, sans-serif" font-size="5.3" font-weight="normal" text-anchor="end" fill="#151515" stroke="#151515" stroke-width="0.1">0</text>
<text x="286.30" y="131.54" font-family="Liberation Sans, Arial, Helvetica, sans-serif" font-size="5.3" font-weight="normal" text-anchor="end" fill="#151515" stroke="#151515" stroke-width="0.1">1</text>
<text x="286.30" y="102.67" font-family="Liberation Sans, Arial, Helvetica, sans-serif" font-size="5.3" font-weight="normal" text-anchor="end" fill="#151515" stroke="#151515" stroke-width="0.1">2</text>
<text x="286.30" y="73.80" font-family="Liberation Sans, Arial, Helvetica, sans-serif" font-size="5.3" font-weight="normal" text-anchor="end" fill="#151515" stroke="#151515" stroke-width="0.1">3</text>
<text x="286.30" y="44.93" font-family="Liberation Sans, Arial, Helvetica, sans-serif" font-size="5.3" font-weight="normal" text-anchor="end" fill="#151515" stroke="#151515" stroke-width="0.1">4</text>
<text x="286.30" y="16.06" font-family="Liberation Sans, Arial, Helvetica, sans-serif" font-size="5.3" font-weight="normal" text-anchor="end" fill="#151515" stroke="#151515" stroke-width="0.1">5</text>
<text x="315.85" y="198.51" font-family="Liberation Sans, Arial, Helvetica, sans-serif" font-size="5.3" font-weight="normal" text-anchor="middle" fill="#151515" stroke="#151515" stroke-width="0.1">1</text>
<text x="344.70" y="198.51" font-family="Liberation Sans, Arial, Helvetica, sans-serif" font-size="5.3" font-weight="normal" text-anchor="middle" fill="#151515" stroke="#151515" stroke-width="0.1">2</text>
<text x="373.55" y="198.51" font-family="Liberation Sans, Arial, Helvetica, sans-serif" font-size="5.3" font-weight="normal" text-anchor="middle" fill="#151515" stroke="#151515" stroke-width="0.1">3</text>
<text x="402.40" y="198.51" font-family="Liberation Sans, Arial, Helvetica, sans-serif" font-size="5.3" font-weight="normal" text-anchor="middle" fill="#151515" stroke="#151515" stroke-width="0.1">4</text>
<text x="431.25" y="198.51" font-family="Liberation Sans, Arial, Helvetica, sans-serif" font-size="5.3" font-weight="normal" text-anchor="middle" fill="#151515" stroke="#151515" stroke-width="0.1">5</text>
<text x="460.10" y="198.51" font-family="Liberation Sans, Arial, Helvetica, sans-serif" font-size="5.3" font-weight="normal" text-anchor="middle" fill="#151515" stroke="#151515" stroke-width="0.1">6</text>
<text x="488.95" y="198.51" font-family="Liberation Sans, Arial, Helvetica, sans-serif" font-size="5.3" font-weight="normal" text-anchor="middle" fill="#151515" stroke="#151515" stroke-width="0.1">7</text>
<path d="M288.5,187.4h2M288.5,158.5h2M288.5,129.6h2M288.5,100.8h2M288.5,71.9h2M288.5,43.0h2M288.5,14.2h2M315.9,190.3v-2M344.7,190.3v-2M373.6,190.3v-2M402.4,190.3v-2M431.2,190.3v-2M460.1,190.3v-2M489.0,190.3v-2" fill="none" stroke="#7a7a7a" stroke-width="0.5"/>
<text x="402.50" y="208.30" font-family="Liberation Sans, Arial, Helvetica, sans-serif" font-size="7.8" font-weight="normal" text-anchor="middle" fill="#141414" stroke="#141414" stroke-width="0.14">X(m)</text>
<text transform="translate(282.50,100.60) rotate(-90)" font-family="Liberation Sans, Arial, Helvetica, sans-serif" font-size="7.8" text-anchor="middle" fill="#141414" stroke="#141414" stroke-width="0.14">Y(m)</text>
<text x="111.20" y="379.80" font-family="Liberation Serif, Times New Roman, serif" font-size="10.4" text-anchor="start" fill="#111" letter-spacing="0.75" font-weight="bold">(e)</text>
<text x="252.00" y="382.30" font-family="Liberation Sans, Arial, Helvetica, sans-serif" font-size="8.4" font-weight="bold" text-anchor="middle" fill="#000">Recovery rate of Component 3</text>
<path d="M138.1,384.3V564.2H365.5" fill="none" stroke="#7a7a7a" stroke-width="0.5"/>
<text x="135.80" y="566.11" font-family="Liberation Sans, Arial, Helvetica, sans-serif" font-size="5.3" font-weight="normal" text-anchor="end" fill="#151515" stroke="#151515" stroke-width="0.1">0</text>
<text x="135.80" y="536.11" font-family="Liberation Sans, Arial, Helvetica, sans-serif" font-size="5.3" font-weight="normal" text-anchor="end" fill="#151515" stroke="#151515" stroke-width="0.1">5</text>
<text x="135.80" y="506.11" font-family="Liberation Sans, Arial, Helvetica, sans-serif" font-size="5.3" font-weight="normal" text-anchor="end" fill="#151515" stroke="#151515" stroke-width="0.1">10</text>
<text x="135.80" y="476.11" font-family="Liberation Sans, Arial, Helvetica, sans-serif" font-size="5.3" font-weight="normal" text-anchor="end" fill="#151515" stroke="#151515" stroke-width="0.1">15</text>
<text x="135.80" y="446.11" font-family="Liberation Sans, Arial, Helvetica, sans-serif" font-size="5.3" font-weight="normal" text-anchor="end" fill="#151515" stroke="#151515" stroke-width="0.1">20</text>
<text x="135.80" y="416.11" font-family="Liberation Sans, Arial, Helvetica, sans-serif" font-size="5.3" font-weight="normal" text-anchor="end" fill="#151515" stroke="#151515" stroke-width="0.1">25</text>
<text x="135.80" y="386.11" font-family="Liberation Sans, Arial, Helvetica, sans-serif" font-size="5.3" font-weight="normal" text-anchor="end" fill="#151515" stroke="#151515" stroke-width="0.1">30</text>
<text x="138.10" y="571.91" font-family="Liberation Sans, Arial, Helvetica, sans-serif" font-size="5.3" font-weight="normal" text-anchor="middle" fill="#151515" stroke="#151515" stroke-width="0.1">0</text>
<text x="170.58" y="571.91" font-family="Liberation Sans, Arial, Helvetica, sans-serif" font-size="5.3" font-weight="normal" text-anchor="middle" fill="#151515" stroke="#151515" stroke-width="0.1">0.5</text>
<text x="203.06" y="571.91" font-family="Liberation Sans, Arial, Helvetica, sans-serif" font-size="5.3" font-weight="normal" text-anchor="middle" fill="#151515" stroke="#151515" stroke-width="0.1">1</text>
<text x="235.54" y="571.91" font-family="Liberation Sans, Arial, Helvetica, sans-serif" font-size="5.3" font-weight="normal" text-anchor="middle" fill="#151515" stroke="#151515" stroke-width="0.1">1.5</text>
<text x="268.02" y="571.91" font-family="Liberation Sans, Arial, Helvetica, sans-serif" font-size="5.3" font-weight="normal" text-anchor="middle" fill="#151515" stroke="#151515" stroke-width="0.1">2</text>
<text x="300.50" y="571.91" font-family="Liberation Sans, Arial, Helvetica, sans-serif" font-size="5.3" font-weight="normal" text-anchor="middle" fill="#151515" stroke="#151515" stroke-width="0.1">2.5</text>
<text x="332.98" y="571.91" font-family="Liberation Sans, Arial, Helvetica, sans-serif" font-size="5.3" font-weight="normal" text-anchor="middle" fill="#151515" stroke="#151515" stroke-width="0.1">3</text>
<text x="365.46" y="571.91" font-family="Liberation Sans, Arial, Helvetica, sans-serif" font-size="5.3" font-weight="normal" text-anchor="middle" fill="#151515" stroke="#151515" stroke-width="0.1">3.5</text>
<path d="M138.1,564.2h2M138.1,534.2h2M138.1,504.2h2M138.1,474.2h2M138.1,444.2h2M138.1,414.2h2M138.1,384.2h2M138.1,564.2v-2M170.6,564.2v-2M203.1,564.2v-2M235.5,564.2v-2M268.0,564.2v-2M300.5,564.2v-2M333.0,564.2v-2M365.5,564.2v-2" fill="none" stroke="#7a7a7a" stroke-width="0.5"/>
<path d="M138.1,564.2L343.7,384.4" fill="none" stroke="#a9b4bd" stroke-width="0.55"/>
<text x="252.30" y="582.30" font-family="Liberation Sans, Arial, Helvetica, sans-serif" font-size="7.8" font-weight="normal" text-anchor="middle" fill="#141414" stroke="#141414" stroke-width="0.14">Time(s)</text>
<text transform="translate(127.70,474.30) rotate(-90)" font-family="Liberation Sans, Arial, Helvetica, sans-serif" font-size="8.25" text-anchor="middle" fill="#141414" stroke="#141414" stroke-width="0.14">Recovery rate(%)</text>
<text x="355.3" y="580.2" font-family="Liberation Sans, Arial, sans-serif" font-size="4.8" fill="#151515">×10<tspan dy="-2.1" font-size="3.6">5</tspan></text>
</g>
</svg>
</body></html>
